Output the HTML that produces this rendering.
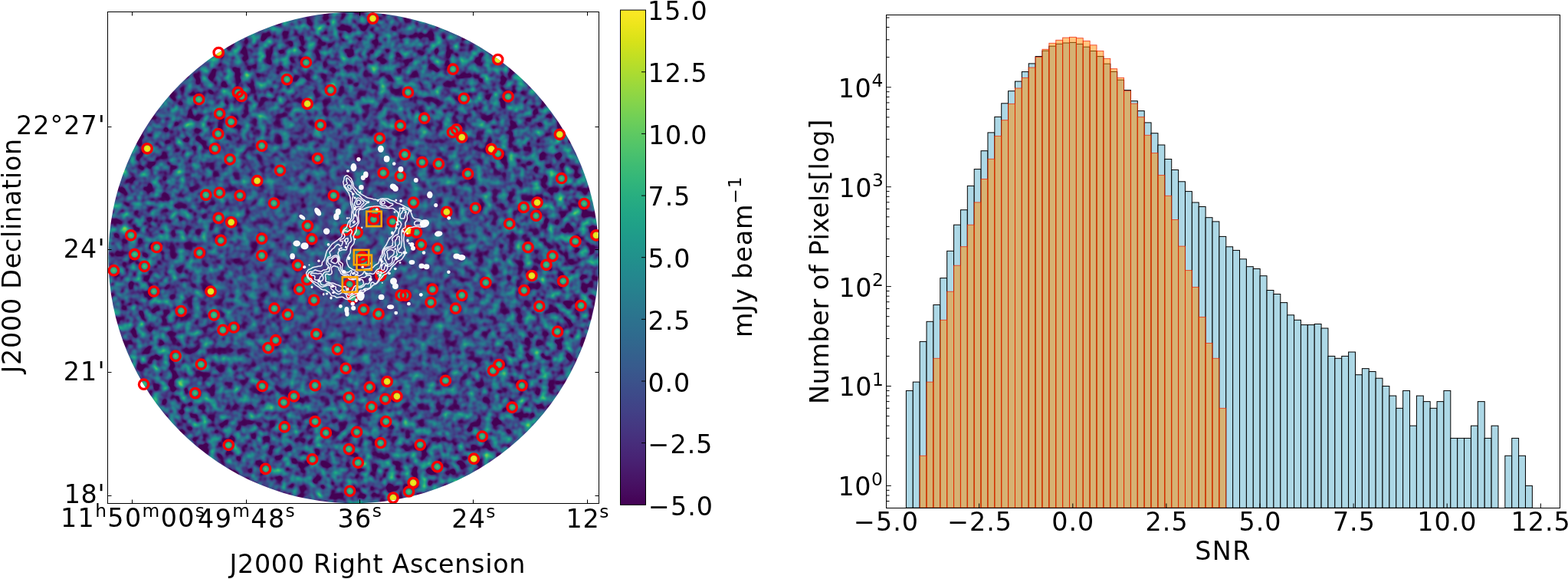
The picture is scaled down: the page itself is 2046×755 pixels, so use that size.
<!DOCTYPE html><html><head><meta charset="utf-8"><title>Radio map and SNR histogram</title><style>html,body{margin:0;padding:0;background:#fff;overflow:hidden}svg{display:block}text{font-family:"DejaVu Sans","Liberation Sans",sans-serif;font-size:33.33px;fill:#000}</style></head><body>
<svg width="2046" height="755" viewBox="0 0 2046 755">
<defs>
<filter id="nzh" x="139" y="14" width="644" height="644" filterUnits="userSpaceOnUse" color-interpolation-filters="sRGB"><feTurbulence type="fractalNoise" baseFrequency="0.095" numOctaves="2" seed="11"/><feColorMatrix type="matrix" values="0 0 0 1 0 0 0 0 1 0 0 0 0 1 0 0 0 0 0 1"/><feGaussianBlur stdDeviation="0.9"/><feComponentTransfer><feFuncR type="table" tableValues="0.267 0.267 0.267 0.267 0.267 0.267 0.267 0.267 0.267 0.267 0.267 0.267 0.267 0.267 0.267 0.267 0.267 0.274 0.281 0.283 0.280 0.272 0.261 0.247 0.230 0.214 0.198 0.184 0.170 0.158 0.145 0.134 0.124 0.119 0.125 0.147 0.181 0.233 0.289 0.361 0.431 0.506 0.596 0.678 0.773 0.856 0.946 0.269"/><feFuncG type="table" tableValues="0.005 0.005 0.005 0.005 0.005 0.005 0.005 0.005 0.005 0.005 0.005 0.005 0.005 0.005 0.005 0.005 0.005 0.031 0.079 0.126 0.166 0.209 0.247 0.283 0.322 0.356 0.392 0.422 0.456 0.486 0.519 0.549 0.578 0.611 0.640 0.673 0.701 0.732 0.758 0.786 0.808 0.829 0.849 0.864 0.878 0.889 0.900 0.010"/><feFuncB type="table" tableValues="0.329 0.329 0.329 0.329 0.329 0.329 0.329 0.329 0.329 0.329 0.329 0.329 0.329 0.329 0.329 0.329 0.329 0.359 0.402 0.445 0.476 0.504 0.523 0.536 0.546 0.551 0.555 0.557 0.558 0.558 0.557 0.554 0.548 0.539 0.527 0.509 0.488 0.459 0.428 0.388 0.346 0.300 0.243 0.190 0.131 0.097 0.113 0.335"/></feComponentTransfer></filter>
<filter id="nzl" x="139" y="14" width="644" height="644" filterUnits="userSpaceOnUse" color-interpolation-filters="sRGB"><feTurbulence type="fractalNoise" baseFrequency="0.095" numOctaves="2" seed="11"/><feColorMatrix type="matrix" values="0 0 0 1 0 0 0 0 1 0 0 0 0 1 0 0 0 0 0 1"/><feGaussianBlur stdDeviation="0.9"/><feComponentTransfer><feFuncR type="table" tableValues="0.267 0.267 0.267 0.267 0.267 0.267 0.267 0.267 0.267 0.267 0.267 0.267 0.271 0.277 0.281 0.283 0.283 0.281 0.278 0.273 0.267 0.261 0.252 0.243 0.234 0.224 0.214 0.205 0.196 0.187 0.179 0.173 0.165 0.158 0.150 0.143 0.136 0.130 0.124 0.121 0.119 0.121 0.128 0.140 0.158 0.181 0.208 0.239"/><feFuncG type="table" tableValues="0.005 0.005 0.005 0.005 0.005 0.005 0.005 0.005 0.005 0.005 0.005 0.005 0.020 0.050 0.079 0.105 0.131 0.156 0.180 0.205 0.228 0.247 0.270 0.292 0.314 0.335 0.356 0.376 0.395 0.415 0.434 0.449 0.467 0.486 0.504 0.523 0.541 0.560 0.578 0.596 0.615 0.629 0.648 0.666 0.684 0.701 0.719 0.736"/><feFuncB type="table" tableValues="0.329 0.329 0.329 0.329 0.329 0.329 0.329 0.329 0.329 0.329 0.329 0.329 0.347 0.376 0.402 0.427 0.449 0.469 0.487 0.502 0.514 0.523 0.532 0.539 0.544 0.548 0.551 0.554 0.555 0.557 0.557 0.558 0.558 0.558 0.557 0.556 0.554 0.552 0.548 0.544 0.538 0.532 0.523 0.513 0.502 0.488 0.473 0.456"/></feComponentTransfer></filter>
<radialGradient id="mg" cx="461.6" cy="336.0" r="320.2" gradientUnits="userSpaceOnUse"><stop offset="0" stop-color="#fff"/><stop offset="0.35" stop-color="#fff"/><stop offset="0.9" stop-color="#000"/></radialGradient>
<mask id="cm" maskUnits="userSpaceOnUse" x="0" y="0" width="2046" height="755"><rect x="139" y="14" width="644" height="644" fill="url(#mg)"/></mask>
<clipPath id="disk"><circle cx="461.6" cy="336.0" r="320.2"/></clipPath>
<clipPath id="frame"><rect x="140.5" y="15.4" width="641.0" height="640.7"/></clipPath>
<radialGradient id="soft" cx="461.6" cy="336.0" r="320.2" gradientUnits="userSpaceOnUse"><stop offset="0" stop-color="#3c4e8a" stop-opacity="0.42"/><stop offset="0.4" stop-color="#3c4e8a" stop-opacity="0.3"/><stop offset="0.85" stop-color="#3c4e8a" stop-opacity="0"/></radialGradient>
<radialGradient id="src1"><stop offset="0" stop-color="#52c569"/><stop offset="0.5" stop-color="#2db27d" stop-opacity="0.9"/><stop offset="1" stop-color="#21918c" stop-opacity="0"/></radialGradient>
<radialGradient id="src2"><stop offset="0" stop-color="#fde725"/><stop offset="0.6" stop-color="#e2e418"/><stop offset="1" stop-color="#7ad151" stop-opacity="0"/></radialGradient>
<radialGradient id="src0"><stop offset="0" stop-color="#4ac16d"/><stop offset="0.5" stop-color="#22a884"/><stop offset="1" stop-color="#2a788e" stop-opacity="0"/></radialGradient>
<linearGradient id="cbar" x1="0" y1="1" x2="0" y2="0"><stop offset="0.0000" stop-color="#440154"/><stop offset="0.0312" stop-color="#470d60"/><stop offset="0.0625" stop-color="#48186a"/><stop offset="0.0938" stop-color="#482374"/><stop offset="0.1250" stop-color="#472d7b"/><stop offset="0.1562" stop-color="#453781"/><stop offset="0.1875" stop-color="#424086"/><stop offset="0.2188" stop-color="#3e4989"/><stop offset="0.2500" stop-color="#3b528b"/><stop offset="0.2812" stop-color="#375b8d"/><stop offset="0.3125" stop-color="#33638d"/><stop offset="0.3438" stop-color="#2f6b8e"/><stop offset="0.3750" stop-color="#2c728e"/><stop offset="0.4062" stop-color="#297a8e"/><stop offset="0.4375" stop-color="#26828e"/><stop offset="0.4688" stop-color="#23898e"/><stop offset="0.5000" stop-color="#21918c"/><stop offset="0.5312" stop-color="#1f988b"/><stop offset="0.5625" stop-color="#1fa088"/><stop offset="0.5938" stop-color="#22a785"/><stop offset="0.6250" stop-color="#28ae80"/><stop offset="0.6562" stop-color="#32b67a"/><stop offset="0.6875" stop-color="#3fbc73"/><stop offset="0.7188" stop-color="#4ec36b"/><stop offset="0.7500" stop-color="#5ec962"/><stop offset="0.7812" stop-color="#70cf57"/><stop offset="0.8125" stop-color="#84d44b"/><stop offset="0.8438" stop-color="#98d83e"/><stop offset="0.8750" stop-color="#addc30"/><stop offset="0.9062" stop-color="#c2df23"/><stop offset="0.9375" stop-color="#d8e219"/><stop offset="0.9688" stop-color="#ece51b"/><stop offset="1.0000" stop-color="#fde725"/></linearGradient>
</defs>
<g clip-path="url(#frame)"><g clip-path="url(#disk)">
<rect x="139" y="14" width="644" height="644" filter="url(#nzh)"/>
<g mask="url(#cm)"><rect x="139" y="14" width="644" height="644" filter="url(#nzl)"/></g>
<circle cx="285.2" cy="68.5" r="6.0" fill="url(#src2)"/>
<circle cx="310.3" cy="120.4" r="6.0" fill="url(#src1)"/>
<circle cx="315.1" cy="125.5" r="6.0" fill="url(#src1)"/>
<circle cx="259.6" cy="129.5" r="6.0" fill="url(#src1)"/>
<circle cx="286.6" cy="148.3" r="6.0" fill="url(#src1)"/>
<circle cx="301.7" cy="158.8" r="6.0" fill="url(#src1)"/>
<circle cx="284.6" cy="174.5" r="6.0" fill="url(#src1)"/>
<circle cx="192.1" cy="193.8" r="6.0" fill="url(#src2)"/>
<circle cx="280.4" cy="193.8" r="6.0" fill="url(#src1)"/>
<circle cx="341.6" cy="190.1" r="6.0" fill="url(#src1)"/>
<circle cx="300" cy="207.8" r="6.0" fill="url(#src1)"/>
<circle cx="486.5" cy="24.1" r="6.0" fill="url(#src2)"/>
<circle cx="399.4" cy="81.3" r="6.0" fill="url(#src1)"/>
<circle cx="374.4" cy="103.6" r="6.0" fill="url(#src1)"/>
<circle cx="431.3" cy="117.5" r="6.0" fill="url(#src1)"/>
<circle cx="401.1" cy="135.4" r="6.0" fill="url(#src2)"/>
<circle cx="532.4" cy="120.4" r="6.0" fill="url(#src1)"/>
<circle cx="553.7" cy="154.2" r="6.0" fill="url(#src1)"/>
<circle cx="418.2" cy="163.1" r="6.0" fill="url(#src1)"/>
<circle cx="522.4" cy="163.9" r="6.0" fill="url(#src1)"/>
<circle cx="495.4" cy="180.4" r="6.0" fill="url(#src1)"/>
<circle cx="528.1" cy="201.5" r="6.0" fill="url(#src1)"/>
<circle cx="414.5" cy="206.6" r="6.0" fill="url(#src1)"/>
<circle cx="550.9" cy="211.5" r="6.0" fill="url(#src1)"/>
<circle cx="365.5" cy="222.3" r="6.0" fill="url(#src1)"/>
<circle cx="500.2" cy="225.5" r="6.0" fill="url(#src1)"/>
<circle cx="522.4" cy="229.5" r="6.0" fill="url(#src1)"/>
<circle cx="649.7" cy="77.6" r="6.0" fill="url(#src2)"/>
<circle cx="591.1" cy="90.2" r="6.0" fill="url(#src1)"/>
<circle cx="605.3" cy="128.3" r="6.0" fill="url(#src1)"/>
<circle cx="663.1" cy="125.8" r="6.0" fill="url(#src1)"/>
<circle cx="595.6" cy="168.8" r="6.0" fill="url(#src1)"/>
<circle cx="590.5" cy="172.5" r="6.0" fill="url(#src1)"/>
<circle cx="602.7" cy="179" r="6.0" fill="url(#src2)"/>
<circle cx="730.3" cy="175.3" r="6.0" fill="url(#src2)"/>
<circle cx="641.2" cy="194.4" r="6.0" fill="url(#src2)"/>
<circle cx="650" cy="200.6" r="6.0" fill="url(#src1)"/>
<circle cx="572.3" cy="213.7" r="6.0" fill="url(#src1)"/>
<circle cx="610.5" cy="226.7" r="6.0" fill="url(#src1)"/>
<circle cx="732.6" cy="232.5" r="6.0" fill="url(#src1)"/>
<circle cx="335.6" cy="235.7" r="6.0" fill="url(#src2)"/>
<circle cx="268.7" cy="254.2" r="6.0" fill="url(#src1)"/>
<circle cx="286.4" cy="251.3" r="6.0" fill="url(#src1)"/>
<circle cx="313.1" cy="255" r="6.0" fill="url(#src1)"/>
<circle cx="285.2" cy="284.4" r="6.0" fill="url(#src1)"/>
<circle cx="301.7" cy="289.8" r="6.0" fill="url(#src2)"/>
<circle cx="170.8" cy="306.8" r="6.0" fill="url(#src1)"/>
<circle cx="288.1" cy="313.4" r="6.0" fill="url(#src1)"/>
<circle cx="341.6" cy="311.1" r="6.0" fill="url(#src1)"/>
<circle cx="204.4" cy="322.5" r="6.0" fill="url(#src1)"/>
<circle cx="175.6" cy="331.6" r="6.0" fill="url(#src1)"/>
<circle cx="260.4" cy="329.6" r="6.0" fill="url(#src1)"/>
<circle cx="341.6" cy="333.3" r="6.0" fill="url(#src1)"/>
<circle cx="188.4" cy="347.3" r="6.0" fill="url(#src1)"/>
<circle cx="148.5" cy="352.7" r="6.0" fill="url(#src1)"/>
<circle cx="200.6" cy="380" r="6.0" fill="url(#src1)"/>
<circle cx="275" cy="380" r="6.0" fill="url(#src2)"/>
<circle cx="236.2" cy="405.6" r="6.0" fill="url(#src1)"/>
<circle cx="279.2" cy="410.8" r="6.0" fill="url(#src1)"/>
<circle cx="305.1" cy="427" r="6.0" fill="url(#src1)"/>
<circle cx="290.9" cy="430.3" r="6.0" fill="url(#src1)"/>
<circle cx="435.3" cy="255" r="6.0" fill="url(#src1)"/>
<circle cx="357.5" cy="265" r="6.0" fill="url(#src1)"/>
<circle cx="539.5" cy="264.1" r="6.0" fill="url(#src1)"/>
<circle cx="401.4" cy="294.6" r="6.0" fill="url(#src1)"/>
<circle cx="489" cy="275.8" r="6.0" fill="url(#src1)"/>
<circle cx="487.5" cy="286" r="6.0" fill="url(#src1)"/>
<circle cx="512.2" cy="288.9" r="6.0" fill="url(#src1)"/>
<circle cx="451.2" cy="299.8" r="6.0" fill="url(#src1)"/>
<circle cx="466.1" cy="303.1" r="6.0" fill="url(#src1)"/>
<circle cx="533" cy="301.1" r="6.0" fill="url(#src2)"/>
<circle cx="543.5" cy="303.1" r="6.0" fill="url(#src1)"/>
<circle cx="406.8" cy="311.7" r="6.0" fill="url(#src1)"/>
<circle cx="549.5" cy="319.1" r="6.0" fill="url(#src1)"/>
<circle cx="571" cy="324.2" r="6.0" fill="url(#src1)"/>
<circle cx="388.6" cy="345.9" r="6.0" fill="url(#src1)"/>
<circle cx="472.5" cy="335.2" r="6.0" fill="url(#src1)"/>
<circle cx="474.8" cy="341.3" r="6.0" fill="url(#src1)"/>
<circle cx="496.8" cy="359.1" r="6.0" fill="url(#src1)"/>
<circle cx="400.6" cy="364.6" r="6.0" fill="url(#src1)"/>
<circle cx="456.1" cy="370.6" r="6.0" fill="url(#src1)"/>
<circle cx="390.6" cy="377.2" r="6.0" fill="url(#src1)"/>
<circle cx="564.3" cy="377.2" r="6.0" fill="url(#src1)"/>
<circle cx="523" cy="385.1" r="6.0" fill="url(#src1)"/>
<circle cx="529.2" cy="385.1" r="6.0" fill="url(#src1)"/>
<circle cx="409.7" cy="391.4" r="6.0" fill="url(#src1)"/>
<circle cx="460.3" cy="388.3" r="6.0" fill="url(#src1)"/>
<circle cx="562" cy="394.3" r="6.0" fill="url(#src1)"/>
<circle cx="358" cy="402.2" r="6.0" fill="url(#src1)"/>
<circle cx="474.6" cy="403.7" r="6.0" fill="url(#src1)"/>
<circle cx="375.5" cy="410.2" r="6.0" fill="url(#src1)"/>
<circle cx="494" cy="409.4" r="6.0" fill="url(#src1)"/>
<circle cx="701" cy="264.1" r="6.0" fill="url(#src2)"/>
<circle cx="683.3" cy="270.4" r="6.0" fill="url(#src1)"/>
<circle cx="762.2" cy="265.6" r="6.0" fill="url(#src1)"/>
<circle cx="620.4" cy="271.3" r="6.0" fill="url(#src1)"/>
<circle cx="582.8" cy="276.4" r="6.0" fill="url(#src2)"/>
<circle cx="699.6" cy="281.2" r="6.0" fill="url(#src1)"/>
<circle cx="664.8" cy="291.8" r="6.0" fill="url(#src1)"/>
<circle cx="777.9" cy="306.8" r="6.0" fill="url(#src2)"/>
<circle cx="750.8" cy="314.8" r="6.0" fill="url(#src1)"/>
<circle cx="689" cy="322.5" r="6.0" fill="url(#src1)"/>
<circle cx="720.9" cy="333.9" r="6.0" fill="url(#src1)"/>
<circle cx="712.9" cy="345.3" r="6.0" fill="url(#src1)"/>
<circle cx="693.9" cy="359.5" r="6.0" fill="url(#src2)"/>
<circle cx="734.6" cy="366.6" r="6.0" fill="url(#src1)"/>
<circle cx="633.8" cy="368.6" r="6.0" fill="url(#src1)"/>
<circle cx="683.9" cy="378.6" r="6.0" fill="url(#src1)"/>
<circle cx="602.7" cy="385.1" r="6.0" fill="url(#src1)"/>
<circle cx="594.5" cy="402.2" r="6.0" fill="url(#src1)"/>
<circle cx="703.8" cy="399.4" r="6.0" fill="url(#src1)"/>
<circle cx="757.9" cy="398.5" r="6.0" fill="url(#src1)"/>
<circle cx="727.5" cy="432.4" r="6.0" fill="url(#src1)"/>
<circle cx="349.9" cy="453.6" r="6.0" fill="url(#src1)"/>
<circle cx="229.1" cy="464.2" r="6.0" fill="url(#src1)"/>
<circle cx="262.4" cy="475" r="6.0" fill="url(#src1)"/>
<circle cx="187.6" cy="501.2" r="6.0" fill="url(#src1)"/>
<circle cx="254.7" cy="512.6" r="6.0" fill="url(#src1)"/>
<circle cx="342.2" cy="503.5" r="6.0" fill="url(#src1)"/>
<circle cx="298.3" cy="580.3" r="6.0" fill="url(#src1)"/>
<circle cx="346.5" cy="611.4" r="6.0" fill="url(#src1)"/>
<circle cx="412.8" cy="435.7" r="6.0" fill="url(#src1)"/>
<circle cx="359.8" cy="443.7" r="6.0" fill="url(#src1)"/>
<circle cx="440.4" cy="455.6" r="6.0" fill="url(#src1)"/>
<circle cx="451.2" cy="480.4" r="6.0" fill="url(#src1)"/>
<circle cx="411.1" cy="502.6" r="6.0" fill="url(#src1)"/>
<circle cx="505.1" cy="497.5" r="6.0" fill="url(#src2)"/>
<circle cx="482.3" cy="504.9" r="6.0" fill="url(#src1)"/>
<circle cx="383.5" cy="516.8" r="6.0" fill="url(#src1)"/>
<circle cx="370.4" cy="524.8" r="6.0" fill="url(#src1)"/>
<circle cx="455.2" cy="518.3" r="6.0" fill="url(#src1)"/>
<circle cx="502.8" cy="520.3" r="6.0" fill="url(#src1)"/>
<circle cx="517.9" cy="516.8" r="6.0" fill="url(#src2)"/>
<circle cx="484.8" cy="530.5" r="6.0" fill="url(#src1)"/>
<circle cx="371.2" cy="556.7" r="6.0" fill="url(#src1)"/>
<circle cx="411.1" cy="549.6" r="6.0" fill="url(#src1)"/>
<circle cx="503.6" cy="549.6" r="6.0" fill="url(#src1)"/>
<circle cx="425.3" cy="564.4" r="6.0" fill="url(#src1)"/>
<circle cx="465.5" cy="563.3" r="6.0" fill="url(#src1)"/>
<circle cx="496.6" cy="577.5" r="6.0" fill="url(#src1)"/>
<circle cx="548.3" cy="580.2" r="6.0" fill="url(#src1)"/>
<circle cx="455.4" cy="585.6" r="6.0" fill="url(#src1)"/>
<circle cx="407.6" cy="598.8" r="6.0" fill="url(#src1)"/>
<circle cx="467.3" cy="603.3" r="6.0" fill="url(#src1)"/>
<circle cx="570.6" cy="608.6" r="6.0" fill="url(#src1)"/>
<circle cx="539.2" cy="629.6" r="6.0" fill="url(#src2)"/>
<circle cx="533.6" cy="641" r="6.0" fill="url(#src1)"/>
<circle cx="456.6" cy="640.3" r="6.0" fill="url(#src1)"/>
<circle cx="513" cy="649.1" r="6.0" fill="url(#src2)"/>
<circle cx="651.1" cy="475.6" r="6.0" fill="url(#src1)"/>
<circle cx="643.5" cy="483.2" r="6.0" fill="url(#src1)"/>
<circle cx="581.4" cy="496.3" r="6.0" fill="url(#src1)"/>
<circle cx="681" cy="502.6" r="6.0" fill="url(#src1)"/>
<circle cx="668.2" cy="531.1" r="6.0" fill="url(#src1)"/>
<circle cx="629.2" cy="569" r="6.0" fill="url(#src1)"/>
<circle cx="618.3" cy="598.2" r="6.0" fill="url(#src2)"/>
</g>
<g fill="none" stroke="#ff0000" stroke-width="3.3"><circle cx="285.2" cy="68.5" r="6.2"/><circle cx="310.3" cy="120.4" r="6.2"/><circle cx="315.1" cy="125.5" r="6.2"/><circle cx="259.6" cy="129.5" r="6.2"/><circle cx="286.6" cy="148.3" r="6.2"/><circle cx="301.7" cy="158.8" r="6.2"/><circle cx="284.6" cy="174.5" r="6.2"/><circle cx="192.1" cy="193.8" r="6.2"/><circle cx="280.4" cy="193.8" r="6.2"/><circle cx="341.6" cy="190.1" r="6.2"/><circle cx="300" cy="207.8" r="6.2"/><circle cx="486.5" cy="24.1" r="6.2"/><circle cx="399.4" cy="81.3" r="6.2"/><circle cx="374.4" cy="103.6" r="6.2"/><circle cx="431.3" cy="117.5" r="6.2"/><circle cx="401.1" cy="135.4" r="6.2"/><circle cx="532.4" cy="120.4" r="6.2"/><circle cx="553.7" cy="154.2" r="6.2"/><circle cx="418.2" cy="163.1" r="6.2"/><circle cx="522.4" cy="163.9" r="6.2"/><circle cx="495.4" cy="180.4" r="6.2"/><circle cx="528.1" cy="201.5" r="6.2"/><circle cx="414.5" cy="206.6" r="6.2"/><circle cx="550.9" cy="211.5" r="6.2"/><circle cx="365.5" cy="222.3" r="6.2"/><circle cx="500.2" cy="225.5" r="6.2"/><circle cx="522.4" cy="229.5" r="6.2"/><circle cx="649.7" cy="77.6" r="6.2"/><circle cx="591.1" cy="90.2" r="6.2"/><circle cx="605.3" cy="128.3" r="6.2"/><circle cx="663.1" cy="125.8" r="6.2"/><circle cx="595.6" cy="168.8" r="6.2"/><circle cx="590.5" cy="172.5" r="6.2"/><circle cx="602.7" cy="179" r="6.2"/><circle cx="730.3" cy="175.3" r="6.2"/><circle cx="641.2" cy="194.4" r="6.2"/><circle cx="650" cy="200.6" r="6.2"/><circle cx="572.3" cy="213.7" r="6.2"/><circle cx="610.5" cy="226.7" r="6.2"/><circle cx="732.6" cy="232.5" r="6.2"/><circle cx="335.6" cy="235.7" r="6.2"/><circle cx="268.7" cy="254.2" r="6.2"/><circle cx="286.4" cy="251.3" r="6.2"/><circle cx="313.1" cy="255" r="6.2"/><circle cx="285.2" cy="284.4" r="6.2"/><circle cx="301.7" cy="289.8" r="6.2"/><circle cx="170.8" cy="306.8" r="6.2"/><circle cx="288.1" cy="313.4" r="6.2"/><circle cx="341.6" cy="311.1" r="6.2"/><circle cx="204.4" cy="322.5" r="6.2"/><circle cx="175.6" cy="331.6" r="6.2"/><circle cx="260.4" cy="329.6" r="6.2"/><circle cx="341.6" cy="333.3" r="6.2"/><circle cx="188.4" cy="347.3" r="6.2"/><circle cx="148.5" cy="352.7" r="6.2"/><circle cx="200.6" cy="380" r="6.2"/><circle cx="275" cy="380" r="6.2"/><circle cx="236.2" cy="405.6" r="6.2"/><circle cx="279.2" cy="410.8" r="6.2"/><circle cx="305.1" cy="427" r="6.2"/><circle cx="290.9" cy="430.3" r="6.2"/><circle cx="435.3" cy="255" r="6.2"/><circle cx="357.5" cy="265" r="6.2"/><circle cx="539.5" cy="264.1" r="6.2"/><circle cx="401.4" cy="294.6" r="6.2"/><circle cx="489" cy="275.8" r="6.2"/><circle cx="487.5" cy="286" r="6.2"/><circle cx="512.2" cy="288.9" r="6.2"/><circle cx="451.2" cy="299.8" r="6.2"/><circle cx="466.1" cy="303.1" r="6.2"/><circle cx="533" cy="301.1" r="6.2"/><circle cx="543.5" cy="303.1" r="6.2"/><circle cx="406.8" cy="311.7" r="6.2"/><circle cx="549.5" cy="319.1" r="6.2"/><circle cx="571" cy="324.2" r="6.2"/><circle cx="388.6" cy="345.9" r="6.2"/><circle cx="472.5" cy="335.2" r="6.2"/><circle cx="474.8" cy="341.3" r="6.2"/><circle cx="496.8" cy="359.1" r="6.2"/><circle cx="400.6" cy="364.6" r="6.2"/><circle cx="456.1" cy="370.6" r="6.2"/><circle cx="390.6" cy="377.2" r="6.2"/><circle cx="564.3" cy="377.2" r="6.2"/><circle cx="523" cy="385.1" r="6.2"/><circle cx="529.2" cy="385.1" r="6.2"/><circle cx="409.7" cy="391.4" r="6.2"/><circle cx="460.3" cy="388.3" r="6.2"/><circle cx="562" cy="394.3" r="6.2"/><circle cx="358" cy="402.2" r="6.2"/><circle cx="474.6" cy="403.7" r="6.2"/><circle cx="375.5" cy="410.2" r="6.2"/><circle cx="494" cy="409.4" r="6.2"/><circle cx="701" cy="264.1" r="6.2"/><circle cx="683.3" cy="270.4" r="6.2"/><circle cx="762.2" cy="265.6" r="6.2"/><circle cx="620.4" cy="271.3" r="6.2"/><circle cx="582.8" cy="276.4" r="6.2"/><circle cx="699.6" cy="281.2" r="6.2"/><circle cx="664.8" cy="291.8" r="6.2"/><circle cx="777.9" cy="306.8" r="6.2"/><circle cx="750.8" cy="314.8" r="6.2"/><circle cx="689" cy="322.5" r="6.2"/><circle cx="720.9" cy="333.9" r="6.2"/><circle cx="712.9" cy="345.3" r="6.2"/><circle cx="693.9" cy="359.5" r="6.2"/><circle cx="734.6" cy="366.6" r="6.2"/><circle cx="633.8" cy="368.6" r="6.2"/><circle cx="683.9" cy="378.6" r="6.2"/><circle cx="602.7" cy="385.1" r="6.2"/><circle cx="594.5" cy="402.2" r="6.2"/><circle cx="703.8" cy="399.4" r="6.2"/><circle cx="757.9" cy="398.5" r="6.2"/><circle cx="727.5" cy="432.4" r="6.2"/><circle cx="349.9" cy="453.6" r="6.2"/><circle cx="229.1" cy="464.2" r="6.2"/><circle cx="262.4" cy="475" r="6.2"/><circle cx="187.6" cy="501.2" r="6.2"/><circle cx="254.7" cy="512.6" r="6.2"/><circle cx="342.2" cy="503.5" r="6.2"/><circle cx="298.3" cy="580.3" r="6.2"/><circle cx="346.5" cy="611.4" r="6.2"/><circle cx="412.8" cy="435.7" r="6.2"/><circle cx="359.8" cy="443.7" r="6.2"/><circle cx="440.4" cy="455.6" r="6.2"/><circle cx="451.2" cy="480.4" r="6.2"/><circle cx="411.1" cy="502.6" r="6.2"/><circle cx="505.1" cy="497.5" r="6.2"/><circle cx="482.3" cy="504.9" r="6.2"/><circle cx="383.5" cy="516.8" r="6.2"/><circle cx="370.4" cy="524.8" r="6.2"/><circle cx="455.2" cy="518.3" r="6.2"/><circle cx="502.8" cy="520.3" r="6.2"/><circle cx="517.9" cy="516.8" r="6.2"/><circle cx="484.8" cy="530.5" r="6.2"/><circle cx="371.2" cy="556.7" r="6.2"/><circle cx="411.1" cy="549.6" r="6.2"/><circle cx="503.6" cy="549.6" r="6.2"/><circle cx="425.3" cy="564.4" r="6.2"/><circle cx="465.5" cy="563.3" r="6.2"/><circle cx="496.6" cy="577.5" r="6.2"/><circle cx="548.3" cy="580.2" r="6.2"/><circle cx="455.4" cy="585.6" r="6.2"/><circle cx="407.6" cy="598.8" r="6.2"/><circle cx="467.3" cy="603.3" r="6.2"/><circle cx="570.6" cy="608.6" r="6.2"/><circle cx="539.2" cy="629.6" r="6.2"/><circle cx="533.6" cy="641" r="6.2"/><circle cx="456.6" cy="640.3" r="6.2"/><circle cx="513" cy="649.1" r="6.2"/><circle cx="651.1" cy="475.6" r="6.2"/><circle cx="643.5" cy="483.2" r="6.2"/><circle cx="581.4" cy="496.3" r="6.2"/><circle cx="681" cy="502.6" r="6.2"/><circle cx="668.2" cy="531.1" r="6.2"/><circle cx="629.2" cy="569" r="6.2"/><circle cx="618.3" cy="598.2" r="6.2"/></g>
<g fill="none" stroke="#f8f8ff" stroke-width="1.55" stroke-linejoin="round" opacity="0.95"><path d="M452.4 228.8L453.1 228.8L453.8 229.0L454.4 229.5L454.9 230.0L455.5 230.5L456.0 230.9L456.5 231.4L457.0 231.8L457.6 232.2L458.1 232.8L458.5 233.2L458.8 234.0L459.0 234.8L459.2 235.5L459.6 236.2L460.0 237.0L460.2 237.6L460.5 238.3L460.8 239.2L460.9 240.0L461.0 241.0L461.1 241.8L461.3 242.5L461.5 243.2L462.0 244.0L462.4 244.5L462.9 245.0L463.4 245.5L463.9 246.0L464.4 246.5L464.9 247.0L465.4 247.5L465.9 248.0L466.4 248.5L466.8 249.0L467.2 249.6L467.8 250.2L468.2 250.7L468.8 251.2L469.2 251.6L469.8 252.0L470.5 252.5L471.0 252.8L471.7 253.2L472.2 253.6L472.8 254.0L473.5 254.4L474.1 254.8L474.8 255.1L475.5 255.4L476.1 255.8L476.8 256.2L477.3 256.5L478.0 257.0L478.5 257.3L479.2 257.6L480.0 257.9L480.8 258.1L481.6 258.2L482.5 258.4L483.2 258.6L484.0 258.8L484.9 259.0L485.7 259.2L486.5 259.5L487.2 259.7L488.0 259.9L489.0 260.0L489.8 260.1L490.5 260.3L491.3 260.5L492.2 260.7L493.2 260.7L494.0 260.5L494.8 260.2L495.5 259.8L496.2 259.5L496.8 259.2L497.7 259.0L498.5 258.9L499.5 258.8L500.5 258.9L501.5 259.0L502.5 259.0L503.5 259.0L504.5 259.0L505.2 259.1L506.2 259.2L506.9 259.5L507.5 259.8L508.2 260.2L508.9 260.5L509.5 260.8L510.2 261.1L511.0 261.4L511.8 261.6L512.5 261.8L513.2 262.0L514.0 262.3L514.8 262.6L515.4 263.0L516.0 263.5L516.5 263.9L517.0 264.3L517.8 264.7L518.5 265.0L519.2 265.2L520.0 265.4L520.8 265.5L521.5 265.8L522.2 266.1L523.0 266.5L523.5 266.8L524.2 267.1L525.0 267.5L525.6 267.8L526.2 268.1L527.0 268.5L527.5 268.8L528.2 269.2L528.8 269.6L529.5 270.0L530.0 270.3L530.8 270.6L531.5 270.9L532.2 271.2L532.9 271.5L533.5 271.9L534.0 272.2L534.5 272.8L534.9 273.5L535.2 274.2L535.5 275.0L535.8 275.6L536.0 276.2L536.3 277.0L536.6 277.8L536.9 278.5L537.2 279.2L537.4 280.0L537.6 280.8L537.8 281.5L538.1 282.2L538.5 282.9L538.9 283.5L539.3 284.0L539.9 284.5L540.5 284.9L541.2 285.2L542.0 285.4L542.8 285.5L543.8 285.7L544.5 285.8L545.5 286.0L546.2 286.1L547.0 286.3L547.8 286.5L548.5 286.8L549.2 287.2L549.8 287.5L550.5 287.9L551.1 288.2L551.8 288.7L552.2 289.0L553.0 289.5L553.5 289.8L554.2 290.1L555.0 290.5L555.5 290.8L556.0 291.5L556.0 292.0L555.7 292.8L555.2 293.3L554.8 293.9L554.2 294.4L553.8 294.9L553.2 295.3L552.5 295.7L551.8 295.9L550.9 296.0L550.0 296.1L549.0 296.1L548.0 296.0L547.2 295.9L546.5 295.7L545.5 295.6L544.5 295.5L543.5 295.5L542.5 295.5L541.5 295.6L540.5 295.7L539.8 295.8L539.0 296.0L538.1 296.2L537.2 296.4L536.5 296.5L535.5 296.6L534.5 296.7L533.8 296.8L533.0 297.2L532.5 297.8L532.1 298.2L531.7 298.8L531.2 299.3L530.8 299.9L530.2 300.4L529.8 301.0L529.2 301.5L528.8 302.0L528.3 302.5L528.0 303.0L527.7 303.8L527.5 304.6L527.4 305.5L527.3 306.5L527.2 307.2L527.1 308.2L526.9 309.0L526.8 310.0L526.7 310.8L526.7 311.8L526.7 312.8L526.7 313.8L526.9 314.5L527.0 315.5L527.1 316.2L527.2 317.2L527.3 318.0L527.4 319.0L527.4 320.0L527.4 321.0L527.5 321.8L527.8 322.5L528.0 323.2L528.3 324.0L528.5 324.8L528.7 325.8L528.7 326.7L528.8 327.5L528.8 328.5L528.8 329.5L528.8 330.3L528.5 331.2L528.3 332.0L528.0 332.5L527.5 333.2L527.1 333.8L526.8 334.3L526.3 335.0L526.0 335.5L525.6 336.2L525.2 336.8L524.8 337.4L524.2 337.9L523.8 338.4L523.2 338.8L522.7 339.2L522.0 339.6L521.2 339.8L520.5 340.0L519.8 340.3L519.0 340.7L518.5 341.0L518.0 341.6L517.5 342.2L517.1 342.8L516.7 343.2L516.2 343.8L515.6 344.2L515.0 344.7L514.5 345.1L514.0 345.5L513.4 346.0L512.8 346.5L512.3 347.0L511.8 347.5L511.4 348.0L511.0 348.5L510.5 349.2L510.2 349.8L509.9 350.5L509.5 351.2L509.2 351.8L508.8 352.4L508.2 352.9L507.8 353.4L507.2 353.9L506.7 354.5L506.3 355.0L506.0 355.5L505.5 356.0L504.9 356.5L504.2 356.8L503.5 357.2L502.9 357.5L502.2 357.8L501.6 358.2L501.0 358.6L500.5 359.0L499.9 359.5L499.4 360.0L499.0 360.5L498.5 361.2L498.1 361.8L497.7 362.3L497.2 362.9L496.8 363.5L496.3 364.0L495.9 364.5L495.4 365.0L495.0 365.6L494.5 366.2L494.1 366.8L493.7 367.2L493.2 367.8L492.8 368.3L492.2 368.8L491.8 369.3L491.2 369.8L490.5 370.2L490.0 370.5L489.2 370.8L488.5 371.0L487.8 371.3L487.0 371.7L486.5 372.1L486.0 372.6L485.5 373.2L485.1 373.8L484.7 374.2L484.2 374.8L483.7 375.2L483.0 375.8L482.5 376.1L481.9 376.5L481.2 376.9L480.5 377.2L479.8 377.5L479.2 377.8L478.5 378.0L477.8 378.4L477.2 378.8L476.7 379.2L476.2 379.8L475.6 380.2L475.0 380.7L474.5 381.0L473.8 381.5L473.2 381.8L472.5 382.2L472.0 382.5L471.2 382.9L470.5 383.2L469.8 383.5L469.0 383.7L468.3 384.0L467.8 384.3L467.0 384.7L466.3 385.0L465.8 385.3L465.0 385.6L464.2 385.8L463.5 386.1L462.8 386.4L462.0 386.7L461.4 387.0L460.8 387.3L460.0 387.7L459.5 388.0L458.8 388.5L458.2 389.0L457.8 389.3L457.2 389.8L456.5 390.1L455.8 390.3L454.8 390.3L453.8 390.4L452.8 390.2L452.0 390.1L451.2 389.9L450.5 389.6L449.9 389.2L449.2 388.8L448.8 388.4L448.2 388.0L447.5 387.5L446.8 387.2L446.0 387.2L445.2 387.3L444.2 387.5L443.5 387.5L442.5 387.6L441.7 387.8L440.8 387.9L440.0 388.0L439.2 388.0L438.5 387.7L437.9 387.2L437.3 386.7L436.8 386.4L436.0 386.0L435.2 385.9L434.2 385.8L433.5 385.7L432.8 385.3L432.2 384.9L431.8 384.3L431.5 383.8L431.0 383.0L430.7 382.5L430.2 381.9L429.8 381.5L429.0 381.0L428.5 380.8L427.8 380.3L427.2 380.0L426.6 379.5L426.0 379.0L425.5 378.7L424.8 378.3L424.0 378.0L423.2 377.9L422.2 377.9L421.2 377.8L420.5 377.6L419.8 377.3L419.3 377.0L418.6 376.5L418.0 376.0L417.5 375.5L417.0 375.1L416.5 374.7L416.0 374.2L415.2 373.8L414.8 373.5L414.0 373.0L413.5 372.7L412.8 372.2L412.2 371.9L411.7 371.5L411.1 371.0L410.7 370.5L410.2 370.0L409.7 369.5L409.1 369.0L408.5 368.6L408.0 368.2L407.3 367.8L406.8 367.3L406.2 366.9L405.8 366.3L405.3 365.8L404.8 365.2L404.3 364.8L403.8 364.3L403.2 363.9L402.7 363.5L402.2 363.0L401.8 362.4L401.4 361.8L401.0 361.0L400.8 360.3L400.5 359.5L400.3 358.8L400.0 358.0L399.8 357.2L399.6 356.5L399.8 355.7L400.1 355.0L400.5 354.4L401.0 353.8L401.3 353.2L401.8 352.6L402.2 352.0L402.7 351.5L403.2 351.2L404.0 351.0L404.8 350.7L405.5 350.4L406.2 350.0L406.8 349.6L407.3 349.2L408.0 348.9L408.8 348.6L409.5 348.4L410.3 348.2L411.2 348.1L412.0 348.0L412.9 347.8L413.8 347.5L414.5 347.4L415.2 347.2L416.2 347.1L417.3 347.0L418.0 346.9L418.8 346.6L419.4 346.2L419.8 345.8L420.2 345.0L420.2 344.0L420.3 343.2L420.4 342.2L420.8 341.6L421.2 341.0L421.8 340.5L422.2 340.0L422.6 339.5L423.0 338.8L423.2 338.1L423.5 337.5L423.8 336.8L424.0 336.0L424.3 335.2L424.5 334.4L424.8 333.6L425.0 332.8L425.2 332.0L425.3 331.2L425.5 330.5L425.8 329.5L426.0 328.8L426.2 328.0L426.5 327.4L426.9 326.8L427.2 326.1L427.7 325.5L428.1 325.0L428.5 324.5L429.0 323.8L429.3 323.2L429.8 322.7L430.2 322.1L430.7 321.5L431.2 321.0L431.5 320.5L432.0 319.9L432.5 319.2L432.9 318.8L433.4 318.2L433.9 317.8L434.5 317.2L435.0 316.9L435.6 316.5L436.2 316.1L436.8 315.7L437.4 315.2L438.0 314.8L438.5 314.4L439.1 314.0L439.8 313.6L440.3 313.2L441.0 312.8L441.5 312.3L442.0 311.8L442.5 311.4L443.1 311.0L443.8 310.6L444.2 310.2L444.8 309.8L445.3 309.2L445.8 308.5L446.0 307.9L446.2 307.0L446.3 306.2L446.4 305.2L446.5 304.5L446.7 303.5L446.8 302.8L447.1 302.0L447.4 301.2L447.8 300.6L448.2 300.0L448.7 299.5L449.2 299.1L449.8 298.7L450.3 298.2L451.0 297.8L451.5 297.3L452.0 296.8L452.3 296.2L452.6 295.5L452.9 294.8L453.1 294.0L453.4 293.2L453.6 292.5L453.9 291.8L454.2 291.0L454.5 290.2L454.8 289.7L455.1 289.0L455.5 288.5L456.0 287.9L456.5 287.4L457.0 286.9L457.5 286.3L457.9 285.8L458.2 285.2L458.6 284.5L458.8 283.7L458.8 282.8L458.8 281.8L458.8 280.8L458.8 279.8L458.9 278.8L458.9 277.8L459.0 276.8L459.2 276.0L459.4 275.2L459.6 274.5L459.7 273.5L459.6 272.5L459.4 271.8L459.2 270.9L459.0 270.0L458.8 269.2L458.6 268.5L458.3 267.8L458.0 267.1L457.8 266.2L457.6 265.5L457.5 264.5L457.5 263.8L457.4 262.8L457.4 261.8L457.4 260.8L457.3 259.8L457.2 259.0L457.1 258.0L456.9 257.2L456.7 256.5L456.4 255.8L456.1 255.0L455.9 254.2L455.6 253.5L455.4 252.8L455.1 252.0L454.8 251.3L454.4 250.8L454.0 250.2L453.5 249.5L453.2 249.0L452.8 248.4L452.3 247.8L451.9 247.2L451.5 246.7L451.0 246.0L450.6 245.5L450.2 245.0L449.8 244.4L449.3 243.8L449.0 243.2L448.8 242.4L448.6 241.5L448.5 240.8L448.3 239.8L448.1 239.0L447.9 238.2L447.8 237.2L448.0 236.4L448.3 235.8L448.6 235.0L448.8 234.2L449.0 233.3L449.1 232.5L449.2 231.7L449.5 231.0L450.0 230.3L450.5 229.8L451.0 229.4L451.7 229.0L452.4 228.8Z"/><path d="M490.0 269.0L489.2 269.0L488.2 269.1L487.3 269.2L486.5 269.4L485.7 269.5L484.8 269.6L483.8 269.7L482.9 269.8L482.0 269.9L481.2 270.0L480.4 270.2L479.8 270.5L479.0 270.8L478.2 271.1L477.5 271.3L476.8 271.5L476.0 271.9L475.3 272.2L474.8 272.5L473.9 272.8L473.0 272.9L472.0 273.0L471.2 273.1L470.4 273.2L469.6 273.5L469.0 273.8L468.4 274.2L468.0 275.0L467.8 275.8L467.7 276.5L467.7 277.5L467.8 278.3L467.8 279.2L467.7 280.0L467.6 281.0L467.6 282.0L467.7 283.0L467.8 283.9L467.8 284.8L467.9 285.8L468.0 286.6L468.2 287.5L468.3 288.2L468.3 289.2L468.2 290.0L468.0 290.8L467.6 291.5L467.2 292.0L466.8 292.8L466.5 293.4L466.2 294.0L465.8 294.8L465.5 295.5L465.2 296.2L465.0 297.0L465.0 297.8L464.9 298.8L464.9 299.8L464.9 300.8L464.7 301.5L464.4 302.2L464.0 303.0L463.7 303.5L463.2 304.2L462.8 304.8L462.5 305.2L462.0 306.0L461.8 306.6L461.5 307.3L461.3 308.2L461.4 309.2L461.5 310.1L461.7 311.0L461.9 311.8L462.1 312.5L462.3 313.2L462.4 314.2L462.3 315.2L462.2 316.0L461.9 316.8L461.6 317.5L461.2 318.1L460.8 318.8L460.3 319.2L459.9 319.8L459.4 320.2L459.0 320.8L458.5 321.5L458.2 322.0L457.8 322.8L457.6 323.5L457.5 324.2L457.4 325.2L457.4 326.2L457.4 327.2L457.3 328.2L457.2 329.0L456.9 329.8L456.6 330.5L456.2 331.1L455.8 331.8L455.5 332.2L455.0 332.9L454.6 333.5L454.2 334.1L453.9 334.8L453.5 335.5L453.3 336.2L453.0 337.0L452.8 337.8L452.6 338.5L452.4 339.2L452.4 340.2L452.5 341.0L452.7 342.0L452.9 342.8L453.1 343.5L453.4 344.2L453.7 345.0L454.0 345.6L454.3 346.2L454.6 347.0L455.0 347.7L455.5 348.2L456.0 348.6L456.6 349.0L457.2 349.4L457.8 349.8L458.5 350.2L459.0 350.6L459.6 351.0L460.2 351.5L460.8 351.8L461.5 352.1L462.5 352.2L463.2 352.3L464.2 352.3L465.2 352.3L466.2 352.5L467.0 352.6L468.0 352.7L468.8 352.8L469.8 352.8L470.5 352.7L471.5 352.5L472.2 352.3L473.0 352.1L473.8 351.8L474.5 351.6L475.2 351.3L476.0 351.1L476.8 351.0L477.8 350.8L478.5 350.7L479.5 350.7L480.5 350.6L481.2 350.5L482.2 350.3L483.0 350.1L483.8 349.9L484.5 349.7L485.4 349.5L486.0 349.2L486.6 348.8L487.2 348.2L487.6 347.8L488.1 347.2L488.5 346.8L489.0 346.2L489.6 345.8L490.2 345.2L490.8 345.0L491.5 344.6L492.2 344.3L492.8 343.9L493.3 343.5L493.8 343.0L494.1 342.2L494.4 341.5L494.6 340.8L494.8 340.0L495.0 339.0L495.2 338.2L495.5 337.5L495.8 336.9L496.1 336.2L496.4 335.5L496.7 334.8L497.0 334.2L497.4 333.5L497.8 332.9L498.1 332.2L498.3 331.5L498.5 330.5L498.5 329.8L498.6 328.8L498.8 327.8L499.0 327.0L499.2 326.3L499.5 325.8L499.9 325.0L500.3 324.5L500.8 323.8L501.1 323.2L501.5 322.7L501.9 322.0L502.3 321.5L502.8 320.9L503.2 320.3L503.6 319.8L504.0 319.2L504.4 318.5L504.7 317.8L505.0 317.2L505.3 316.5L505.6 315.8L506.0 315.0L506.2 314.4L506.6 313.8L507.0 313.0L507.3 312.5L507.8 311.8L508.2 311.2L508.7 310.8L509.2 310.2L509.7 309.8L510.2 309.2L510.7 308.8L511.2 308.2L511.7 307.8L512.2 307.2L512.6 306.8L513.0 306.1L513.3 305.5L513.6 304.8L513.9 304.0L514.2 303.3L514.6 302.8L515.0 302.1L515.4 301.5L515.8 301.0L516.1 300.2L516.4 299.5L516.6 298.8L516.7 297.8L516.8 297.0L516.8 296.0L517.0 295.0L517.1 294.2L517.4 293.5L517.7 292.8L518.0 292.1L518.3 291.5L518.7 290.8L519.0 290.1L519.2 289.2L519.1 288.2L519.0 287.2L519.1 286.2L519.1 285.2L519.2 284.2L519.2 283.2L519.3 282.5L519.5 281.7L519.7 280.8L519.8 280.0L519.8 279.0L519.7 278.2L519.4 277.5L519.0 276.9L518.5 276.4L518.0 275.9L517.5 275.4L517.0 274.9L516.5 274.5L515.9 274.0L515.3 273.5L514.8 273.0L514.2 272.6L513.8 272.2L513.0 271.8L512.2 271.6L511.2 271.5L510.2 271.5L509.2 271.6L508.2 271.7L507.5 271.8L506.8 271.7L505.8 271.6L505.0 271.5L504.0 271.3L503.2 271.2L502.2 271.1L501.2 271.0L500.5 270.9L499.7 270.7L499.0 270.5L498.2 270.2L497.5 270.0L496.7 269.8L496.0 269.5L495.2 269.2L494.2 269.0L493.5 268.9L492.5 268.8L491.5 268.8L490.5 268.9Z"/><path d="M452.3 232.2L453.2 232.2L453.9 232.5L454.5 233.0L455.0 233.5L455.5 233.9L456.0 234.5L456.4 235.0L456.8 235.5L457.2 236.2L457.6 236.8L458.0 237.3L458.5 238.0L458.8 238.5L459.0 239.5L459.0 240.2L459.1 241.2L459.2 242.2L459.4 243.0L459.6 243.8L459.8 244.5L460.1 245.2L460.5 245.8L461.0 246.4L461.5 246.9L462.0 247.5L462.2 248.2L462.5 249.0L462.8 249.5L463.4 250.0L463.9 250.5L464.3 251.0L464.8 251.6L465.1 252.2L465.5 252.8L466.0 253.2L466.8 253.6L467.5 253.8L468.2 254.2L468.8 254.6L469.2 255.1L469.8 255.7L470.2 256.2L470.8 256.7L471.2 257.2L471.6 257.8L472.0 258.3L472.5 258.9L473.0 259.4L473.5 259.8L474.2 260.2L474.8 260.6L475.3 261.0L476.0 261.5L476.5 261.9L477.0 262.3L477.7 262.8L478.2 263.0L479.2 263.1L480.0 262.9L481.0 262.9L481.5 263.5L481.1 264.2L480.2 264.5L479.5 264.6L478.8 264.8L478.0 265.2L477.5 265.6L477.0 266.1L476.5 266.7L476.0 267.2L475.5 267.6L474.9 268.0L474.3 268.5L473.8 269.0L473.5 269.5L473.0 270.2L472.5 270.6L471.8 270.9L471.0 271.1L470.2 271.3L469.5 271.5L468.8 271.8L468.0 272.2L467.4 272.5L466.8 272.9L466.2 273.2L465.6 273.8L465.2 274.2L464.8 274.9L464.5 275.5L464.3 276.5L464.2 277.2L464.0 278.2L463.9 279.0L464.0 279.8L464.4 280.5L464.8 281.0L465.2 281.8L465.5 282.3L465.8 283.0L466.0 284.0L466.0 284.8L466.2 285.8L466.3 286.5L466.5 287.2L466.8 288.1L466.8 289.0L466.6 289.8L466.2 290.3L465.8 290.8L465.2 291.2L464.6 291.8L464.0 292.2L463.5 292.7L463.0 293.1L462.5 293.5L461.9 294.0L461.2 294.4L460.7 294.8L460.0 295.1L459.2 295.5L458.8 295.8L458.1 296.2L457.5 296.6L456.8 296.3L456.4 295.8L456.3 294.8L456.5 293.9L456.7 293.0L456.8 292.2L456.8 291.2L456.7 290.5L456.8 289.8L457.2 289.1L457.8 288.7L458.4 288.2L459.0 287.9L459.5 287.5L460.0 287.0L460.5 286.4L460.9 285.8L461.2 285.0L461.5 284.2L461.6 283.5L461.6 282.5L461.6 281.5L461.7 280.5L461.5 279.5L461.2 278.8L461.0 278.2L460.7 277.5L460.7 276.5L461.0 275.8L461.2 275.2L461.6 274.5L461.9 273.8L461.9 272.8L461.8 271.8L461.6 271.0L461.4 270.2L461.2 269.5L461.0 268.7L460.8 267.9L460.5 267.2L460.2 266.5L459.9 265.8L459.6 265.0L459.4 264.2L459.4 263.2L459.5 262.5L459.7 261.5L459.8 260.8L459.7 260.0L459.7 259.0L459.9 258.2L460.2 257.6L460.5 256.9L460.7 256.0L460.5 255.0L460.2 254.3L460.0 253.6L459.8 252.8L459.7 252.0L459.6 251.0L459.2 250.4L458.7 250.0L458.0 249.6L457.2 249.3L456.7 249.0L456.0 248.6L455.4 248.2L454.8 247.8L454.2 247.5L453.6 247.0L453.0 246.5L452.5 246.0L452.1 245.5L451.8 245.0L451.2 244.4L450.8 243.9L450.2 243.4L449.9 242.8L450.0 242.0L450.5 241.3L451.0 240.9L451.8 240.6L452.4 240.2L452.9 239.8L453.2 239.0L453.0 238.2L452.5 237.5L452.2 236.9L452.0 236.0L452.0 235.0L452.0 234.2L451.9 233.2L452.1 232.5Z"/><path d="M498.6 260.0L499.5 260.0L500.2 260.1L501.0 260.3L501.8 260.5L502.5 260.8L503.2 261.0L504.0 261.3L504.8 261.7L505.2 262.0L505.9 262.5L506.5 262.9L507.0 263.3L507.7 263.8L508.2 264.2L508.8 264.5L509.5 264.8L510.2 265.0L511.2 265.2L512.0 265.4L512.5 265.8L512.8 266.5L512.5 267.2L512.0 267.5L511.2 267.8L510.5 268.1L509.8 268.5L509.2 268.9L508.8 269.3L508.0 269.7L507.4 270.0L506.5 270.1L505.7 270.0L505.0 269.7L504.4 269.2L503.9 268.8L503.2 268.3L502.2 268.3L501.3 268.5L500.6 268.5L499.8 268.3L499.0 268.1L498.3 267.8L497.8 267.4L497.2 267.0L496.7 266.5L496.3 265.8L496.0 265.1L495.9 264.2L496.0 263.5L496.2 262.6L496.5 262.0L496.9 261.2L497.3 260.8L497.9 260.2L498.6 260.0Z"/><path d="M521.4 271.2L522.2 271.2L523.0 271.5L523.8 271.7L524.8 271.7L525.5 271.8L526.5 271.9L527.2 272.0L528.2 272.2L529.0 272.4L529.8 272.5L530.8 272.7L531.5 272.9L532.2 273.1L533.0 273.5L533.4 274.0L533.6 274.8L533.6 275.8L533.4 276.5L533.1 277.2L532.8 277.8L532.3 278.5L532.0 279.0L531.6 279.8L531.3 280.5L531.2 281.2L531.2 282.2L531.3 283.0L531.5 284.0L531.5 284.8L531.4 285.5L531.1 286.2L530.9 287.0L530.6 287.8L530.2 288.3L529.8 289.0L529.5 289.5L529.1 290.2L529.0 291.0L528.8 292.0L528.9 293.0L529.0 294.0L529.1 294.8L529.0 295.7L528.8 296.4L528.3 297.0L527.8 297.4L527.0 297.8L526.5 298.0L525.8 298.4L525.2 298.8L524.8 299.4L524.5 300.0L524.2 300.8L524.0 301.8L524.0 302.8L524.0 303.8L524.0 304.5L523.9 305.5L524.0 306.2L524.2 307.2L524.2 308.1L524.3 309.0L524.2 309.8L524.2 310.8L524.3 311.5L524.4 312.5L524.4 313.5L524.4 314.5L524.2 315.5L524.1 316.2L523.9 317.0L523.8 318.0L523.7 318.8L523.7 319.8L523.6 320.8L523.4 321.5L523.1 322.2L522.8 322.8L522.2 323.3L521.8 323.8L521.2 324.3L520.8 325.0L520.5 325.5L520.1 326.2L519.8 327.0L519.7 327.8L520.0 328.5L520.5 329.0L521.2 329.2L522.0 329.3L523.0 329.3L523.8 329.5L524.4 330.0L524.6 330.8L524.4 331.5L524.0 332.1L523.5 332.7L523.0 333.1L522.5 333.5L521.8 333.9L521.2 334.2L520.6 334.8L520.2 335.3L519.9 336.0L519.5 336.5L518.9 337.0L518.2 337.3L517.5 337.7L516.8 338.0L516.2 338.3L515.6 338.8L515.1 339.2L514.8 339.8L514.4 340.5L514.1 341.2L513.8 342.0L513.5 342.5L513.0 343.2L512.6 343.8L512.1 344.2L511.5 344.7L511.0 345.1L510.5 345.6L510.0 346.0L509.4 346.5L508.8 346.9L508.0 347.1L507.0 347.2L506.3 347.5L505.8 348.0L505.6 348.8L505.6 349.8L505.5 350.6L505.2 351.2L504.8 351.8L504.3 352.5L503.9 353.0L503.5 353.5L502.9 354.0L502.2 354.4L501.5 354.7L501.0 355.0L500.2 355.4L499.5 355.7L498.8 356.0L498.0 356.2L497.5 356.6L497.0 357.1L496.6 357.8L496.4 358.5L496.2 359.2L496.0 360.1L495.8 361.0L495.5 361.8L495.2 362.2L494.8 363.0L494.5 363.5L494.2 364.2L493.9 365.0L493.6 365.8L493.2 366.4L492.9 367.0L492.5 367.6L492.0 368.2L491.5 368.8L491.0 369.2L490.4 369.5L489.5 369.7L488.7 369.5L488.0 369.1L487.5 368.7L486.9 368.2L486.3 368.0L485.5 368.2L485.0 368.5L484.5 369.0L484.0 369.8L483.8 370.5L483.7 371.2L483.8 372.1L483.8 373.0L483.7 373.8L483.4 374.5L482.9 375.0L482.3 375.5L481.8 375.8L481.0 376.1L480.2 376.3L479.2 376.3L478.2 376.3L477.5 376.2L476.8 376.3L476.0 376.5L475.2 376.9L474.8 377.3L474.2 377.8L473.8 378.3L473.0 378.7L472.0 378.6L471.2 378.4L470.2 378.5L469.8 378.9L469.4 379.5L469.1 380.2L468.8 380.8L468.2 381.3L467.7 381.8L467.0 382.2L466.3 382.5L465.6 382.8L464.8 382.9L464.0 383.0L463.0 383.2L462.2 383.4L461.7 383.8L461.0 384.1L460.4 384.5L459.8 384.8L459.0 385.2L458.4 385.5L457.8 386.0L457.3 386.5L457.0 387.0L456.5 387.7L456.0 388.2L455.5 388.6L454.8 388.8L454.0 388.7L453.2 388.3L452.8 387.8L452.5 387.0L452.3 386.2L452.2 385.5L452.0 384.8L451.6 384.0L451.2 383.5L450.8 382.9L450.2 382.5L449.5 382.1L448.8 381.8L448.0 381.5L447.2 381.4L446.2 381.5L445.5 381.8L445.0 382.1L444.4 382.5L443.8 383.0L443.2 383.2L442.2 383.5L441.2 383.4L440.5 383.2L439.7 383.0L439.0 382.7L438.4 382.2L437.8 381.8L437.2 381.4L436.8 380.9L436.2 380.4L435.8 379.8L435.3 379.2L434.8 378.8L434.2 378.3L433.8 377.9L433.2 377.5L432.7 377.0L432.2 376.4L431.9 375.8L431.8 374.9L431.7 374.0L431.5 373.2L431.0 372.7L430.3 372.2L429.8 372.0L429.0 371.7L428.0 371.6L427.2 371.8L426.5 372.1L425.8 372.5L425.2 372.8L424.5 373.1L423.8 373.3L423.0 373.5L422.1 373.8L421.4 374.0L420.5 374.2L419.5 374.1L418.8 373.8L418.2 373.3L417.8 372.8L417.2 372.3L416.8 371.8L416.2 371.3L415.8 370.8L415.4 370.2L414.9 369.8L414.2 369.3L413.8 369.0L413.0 368.6L412.3 368.2L411.8 368.0L411.0 367.6L410.2 367.3L409.5 367.0L408.8 366.8L408.0 366.5L407.5 366.1L407.1 365.5L406.8 364.8L406.5 364.0L406.0 363.5L405.4 363.2L404.5 363.1L403.8 362.8L403.2 362.5L402.7 362.0L402.2 361.3L402.0 360.5L401.9 359.8L401.9 358.8L402.0 358.0L402.2 357.0L402.5 356.4L402.9 355.8L403.4 355.2L403.9 354.8L404.5 354.5L405.3 354.2L406.2 354.2L407.2 354.1L408.0 353.9L408.7 353.6L409.2 353.2L409.9 352.8L410.5 352.3L411.2 352.1L412.1 352.2L412.8 352.5L413.5 352.8L414.2 353.1L415.0 353.2L416.0 353.4L416.8 353.5L417.6 353.8L418.5 353.9L419.5 353.8L420.0 353.5L420.7 353.0L421.2 352.6L421.8 352.2L422.6 352.0L423.5 351.9L424.5 351.8L425.2 351.7L426.0 351.4L426.7 351.0L427.2 350.5L427.6 350.0L428.0 349.2L428.2 348.5L428.5 347.8L428.4 346.8L428.0 346.1L427.5 345.7L427.0 345.2L426.5 344.8L426.1 344.0L426.0 343.0L426.1 342.0L426.1 341.0L426.2 340.0L426.4 339.2L426.6 338.5L426.9 337.8L427.2 337.0L427.5 336.4L427.8 335.8L428.3 335.2L429.0 334.8L429.8 334.6L430.5 334.4L431.0 334.0L431.3 333.2L431.2 332.5L430.9 331.8L430.6 331.0L430.3 330.2L430.2 329.5L430.2 328.6L430.6 328.0L431.2 327.5L431.8 327.1L432.2 326.7L432.7 326.0L433.1 325.5L433.5 325.0L434.1 324.5L434.8 324.1L435.3 323.8L435.9 323.2L436.3 322.8L436.8 322.0L437.1 321.5L437.5 321.0L438.1 320.5L438.7 320.0L439.2 319.5L439.8 319.1L440.3 318.8L441.2 318.6L442.0 318.8L442.5 319.3L443.0 319.9L443.5 320.4L444.0 320.8L444.8 320.7L445.4 320.2L445.8 319.8L446.2 319.0L446.4 318.2L446.7 317.5L447.0 316.8L447.3 316.2L447.4 315.2L447.0 314.6L446.2 314.3L445.2 314.4L444.2 314.3L443.8 314.0L443.6 313.0L444.0 312.5L444.8 312.1L445.5 311.9L446.2 311.7L447.0 311.5L447.8 311.0L448.2 310.6L448.8 310.1L449.1 309.5L449.5 308.8L449.7 308.0L449.8 307.2L449.7 306.5L449.2 305.8L448.9 305.2L448.5 304.6L448.2 303.9L448.2 303.0L448.3 302.2L448.6 301.5L449.2 301.0L450.0 300.8L451.0 300.9L451.8 301.1L452.5 301.5L453.2 301.7L454.0 301.5L454.8 301.2L455.5 300.8L456.0 300.4L456.5 299.9L457.0 299.4L457.8 299.1L458.2 299.5L458.8 300.2L459.0 300.8L459.3 301.5L459.4 302.5L459.2 303.2L458.8 304.0L458.5 304.5L458.0 305.2L457.8 305.8L457.5 306.5L457.3 307.5L457.5 308.3L457.8 309.1L458.0 309.9L458.2 310.8L458.3 311.5L458.5 312.5L458.5 313.2L458.4 314.0L458.0 314.6L457.5 315.2L457.0 315.6L456.5 316.1L456.0 316.5L455.4 317.0L455.0 317.5L454.6 318.2L454.4 319.0L454.2 319.8L453.9 320.5L453.6 321.2L453.2 321.8L452.9 322.5L452.7 323.2L452.6 324.2L452.4 325.0L452.0 325.6L451.2 325.9L450.2 325.8L449.5 325.7L448.5 325.6L447.5 325.6L446.8 325.8L446.0 326.0L445.2 326.4L444.5 326.7L443.8 326.9L443.0 326.6L443.0 325.9L443.2 325.2L443.2 324.3L442.5 324.2L442.1 324.8L442.1 325.8L442.4 326.5L442.2 327.2L441.9 328.0L441.5 328.8L441.3 329.5L441.1 330.2L441.1 331.2L441.4 332.0L441.7 332.8L442.0 333.5L442.2 334.1L442.5 334.8L442.8 335.6L442.9 336.5L443.0 337.5L443.0 338.2L443.1 339.2L443.2 340.2L443.5 341.0L443.8 341.5L444.4 342.0L445.0 342.3L445.7 342.8L446.2 343.1L446.8 343.7L447.1 344.2L447.2 345.2L447.0 346.1L446.8 346.8L446.5 347.5L446.3 348.5L446.3 349.5L446.5 350.5L446.7 351.2L447.0 352.0L447.2 352.8L447.5 353.3L447.9 354.0L448.5 354.5L449.1 354.8L450.0 354.9L451.0 355.0L451.8 355.0L452.8 355.1L453.8 355.1L454.5 355.0L455.2 354.6L455.8 354.2L456.5 353.8L457.0 353.3L457.5 352.9L458.0 352.8L458.8 353.1L459.0 353.8L458.9 354.5L458.5 355.2L458.1 355.8L457.7 356.2L457.4 357.0L457.2 357.8L457.2 358.8L457.5 359.5L457.9 360.0L458.5 360.5L459.0 360.8L459.8 361.0L460.8 361.2L461.5 361.0L462.2 360.6L462.8 360.2L463.4 359.8L464.0 359.3L464.7 359.0L465.5 358.8L466.2 358.7L467.0 359.0L467.5 359.3L468.2 359.6L469.2 359.6L469.9 359.2L470.5 358.9L471.2 358.5L471.8 358.2L472.4 357.8L473.0 357.3L473.5 356.9L474.0 356.3L474.4 355.8L474.7 355.0L475.0 354.2L475.5 353.8L476.2 354.2L476.5 355.0L476.7 355.8L477.0 356.3L477.6 356.8L478.5 356.9L479.5 356.9L480.5 356.8L481.2 356.7L482.2 356.6L483.2 356.6L484.1 356.8L484.9 357.0L485.8 357.2L486.5 357.3L487.2 357.1L488.0 356.8L488.5 356.3L489.0 355.8L489.3 355.2L489.8 354.6L490.1 354.0L490.5 353.4L491.0 352.8L491.4 352.2L491.9 351.8L492.5 351.3L493.1 351.0L493.8 350.7L494.5 350.3L495.0 349.9L495.4 349.2L495.8 348.6L496.0 347.9L496.3 347.2L496.6 346.5L496.9 345.8L497.2 345.0L497.5 344.2L497.6 343.5L497.7 342.5L497.7 341.5L497.5 340.5L497.4 339.8L497.4 338.8L497.5 338.0L497.8 337.2L498.1 336.5L498.5 335.8L498.8 335.2L499.2 334.5L499.6 334.0L500.0 333.4L500.2 332.5L500.2 332.0L500.1 331.0L499.9 330.2L499.8 329.5L499.7 328.5L499.8 327.7L500.0 327.0L500.5 326.2L500.8 325.8L501.2 325.2L501.8 324.7L502.2 324.2L502.8 323.7L503.3 323.2L504.0 322.9L504.8 322.6L505.5 322.4L506.2 322.2L507.0 322.0L508.0 321.8L508.8 321.6L509.5 321.4L510.2 321.1L511.0 320.8L511.5 320.5L512.1 320.0L512.3 319.2L512.3 318.2L512.3 317.2L512.5 316.2L512.6 315.5L512.5 314.5L512.2 313.8L511.9 313.2L511.6 312.5L511.7 311.5L512.0 310.8L512.4 310.2L512.8 309.8L513.4 309.2L514.0 308.8L514.5 308.3L515.0 307.9L515.5 307.4L516.0 307.0L516.8 306.6L517.5 306.3L518.2 306.1L518.9 305.8L519.4 305.2L519.8 304.5L519.9 303.8L520.0 303.0L520.2 302.0L520.4 301.2L520.4 300.2L520.5 299.3L520.8 298.5L521.1 298.0L521.5 297.5L522.0 296.9L522.5 296.2L522.8 295.6L523.0 294.8L523.2 294.1L523.5 293.4L523.7 292.5L523.5 291.5L523.2 291.0L522.8 290.2L522.5 289.7L522.0 289.1L521.5 288.7L520.9 288.2L520.2 287.9L519.7 287.5L519.2 286.9L519.1 286.0L519.2 285.0L519.3 284.2L519.5 283.3L519.8 282.6L520.0 281.9L520.3 281.2L520.5 280.5L520.7 279.5L520.8 278.8L520.9 277.8L521.0 277.0L521.3 276.2L521.6 275.5L521.9 274.8L521.8 273.8L521.6 273.0L521.3 272.2L521.2 271.7Z"/><path d="M543.8 288.0L544.8 287.9L545.8 287.9L546.8 288.0L547.4 288.2L548.0 288.6L548.5 289.0L549.1 289.5L549.7 290.0L550.1 290.5L550.5 291.0L550.9 291.8L550.8 292.7L550.3 293.2L549.8 293.5L548.8 293.7L547.8 293.6L547.0 293.5L546.0 293.4L545.0 293.4L544.2 293.5L543.2 293.7L542.5 293.8L541.8 293.6L541.1 293.2L540.8 292.5L540.7 291.8L540.7 290.8L540.9 290.0L541.3 289.5L541.8 289.0L542.3 288.5L543.0 288.2L543.8 288.0Z"/><path d="M464.2 354.2L464.8 354.3L465.7 354.5L466.2 354.8L466.8 355.3L467.1 356.0L466.9 356.8L466.3 357.2L465.5 357.5L464.5 357.4L463.6 357.2L462.9 357.0L462.3 356.5L462.0 356.0L462.0 355.2L462.5 354.7L463.2 354.4L464.2 354.2Z"/><path d="M455.1 241.2L456.0 241.2L456.5 241.5L457.0 242.2L457.3 242.8L457.6 243.5L457.8 244.2L458.0 245.3L458.1 246.0L457.9 246.8L457.0 246.9L456.3 246.5L455.8 246.1L455.3 245.7L454.8 245.2L454.2 244.6L453.9 244.0L453.6 243.2L453.8 242.5L454.2 241.9L454.8 241.4Z"/><path d="M466.1 258.5L467.0 258.3L468.0 258.3L469.0 258.4L469.7 258.8L470.2 259.2L470.8 259.7L471.2 260.2L471.7 260.8L472.2 261.2L472.8 261.6L473.3 262.0L474.0 262.5L474.5 263.0L474.8 263.5L474.8 264.5L474.4 265.0L473.9 265.5L473.2 265.9L472.8 266.3L472.2 266.8L471.8 267.5L471.5 268.1L471.1 268.8L470.5 269.2L469.9 269.5L469.0 269.6L468.0 269.5L467.2 269.4L466.3 269.5L465.8 269.8L465.0 270.2L464.4 269.8L464.0 269.2L463.5 268.6L463.1 268.0L462.8 267.5L462.5 266.8L462.4 265.8L462.5 265.0L462.9 264.2L463.2 263.7L463.7 263.0L464.0 262.5L464.3 261.8L464.5 261.0L464.8 260.0L465.0 259.4L465.5 258.8L466.1 258.5Z"/><path d="M499.1 262.0L500.0 261.9L500.8 262.1L501.3 262.5L501.8 263.0L502.1 263.8L502.1 264.8L501.7 265.2L501.0 265.8L500.4 266.0L499.5 266.1L498.8 265.9L498.2 265.5L497.8 264.8L497.8 263.8L498.1 263.0L498.5 262.4L499.1 262.0Z"/><path d="M526.0 274.0L526.8 274.0L527.5 274.2L528.2 274.4L528.9 274.8L529.5 275.2L529.8 275.8L530.0 276.8L529.9 277.8L529.6 278.5L529.3 279.2L529.0 280.0L528.7 280.5L528.4 281.2L528.2 282.0L528.0 283.0L527.9 283.8L527.6 284.5L527.0 284.9L526.2 285.0L525.2 285.0L524.2 285.0L523.5 285.0L522.8 284.6L522.4 284.0L522.2 283.2L522.2 282.2L522.3 281.5L522.4 280.5L522.5 279.8L522.8 279.0L523.2 278.4L523.8 277.9L524.2 277.4L524.7 276.8L525.0 276.1L525.2 275.2L525.4 274.5L526.0 274.0Z"/><path d="M462.0 288.2L462.8 288.1L463.1 288.8L463.0 289.5L462.5 290.1L461.9 290.5L461.2 290.9L460.6 290.5L460.8 289.7L461.2 289.0L461.7 288.5Z"/><path d="M520.0 308.0L520.6 308.0L521.2 308.5L521.4 309.2L521.3 310.2L521.1 311.0L521.0 311.8L521.1 312.5L521.3 313.2L521.5 314.2L521.5 315.0L521.5 315.8L521.4 316.8L521.2 317.5L520.9 318.2L520.5 318.8L520.0 319.3L519.5 319.8L519.0 320.2L518.7 321.0L518.8 321.9L518.9 322.8L519.0 323.7L518.8 324.8L518.5 325.5L518.2 326.0L517.8 326.8L517.5 327.5L517.3 328.2L517.5 329.2L517.8 329.9L518.1 330.5L518.3 331.2L518.2 332.0L517.8 332.8L517.4 333.2L516.9 333.8L516.2 334.1L515.5 334.4L514.8 334.6L514.0 334.9L513.4 335.2L512.8 335.6L512.2 336.0L511.9 336.8L512.0 337.5L512.1 338.5L512.0 339.3L511.8 340.2L511.6 341.0L511.4 341.8L511.0 342.5L510.5 343.0L510.0 343.4L509.5 343.8L508.8 344.2L508.1 344.5L507.2 344.6L506.2 344.5L505.6 344.2L505.0 343.7L504.7 343.2L504.3 342.5L504.0 341.7L503.8 341.0L503.5 340.2L503.2 339.7L502.8 339.0L502.4 338.5L502.0 338.0L501.8 337.0L502.0 336.1L502.2 335.5L502.5 334.7L502.7 333.8L502.8 333.0L502.6 332.2L502.4 331.5L502.0 330.8L501.8 330.2L501.5 329.4L501.4 328.5L501.6 327.8L501.9 327.0L502.3 326.5L502.8 326.0L503.3 325.5L504.0 325.0L504.5 324.7L505.2 324.4L506.0 324.1L506.8 323.9L507.5 323.8L508.5 323.6L509.2 323.4L510.2 323.3L511.0 323.2L511.9 323.0L512.6 322.8L513.2 322.5L514.0 322.1L514.7 321.8L515.2 321.3L515.8 320.8L516.1 320.2L516.2 319.2L516.0 318.5L515.8 317.7L515.6 316.8L515.6 315.8L515.7 314.8L515.8 313.9L516.0 313.2L516.5 312.6L517.0 312.2L517.5 311.7L517.8 311.0L517.9 310.0L518.1 309.2L518.6 308.8L519.2 308.3L520.0 308.0Z"/><path d="M452.9 310.8L453.8 310.5L454.1 311.2L454.1 312.2L454.1 313.2L454.0 314.0L453.6 314.8L453.1 315.2L452.5 315.7L451.8 316.0L451.2 316.0L450.8 315.5L450.4 314.8L450.1 314.0L450.0 313.0L450.3 312.2L450.8 311.7L451.5 311.3L452.2 311.0L452.9 310.8Z"/><path d="M438.0 333.0L438.8 333.0L439.5 333.2L440.0 333.5L440.5 334.0L441.0 334.6L441.3 335.2L441.6 336.0L441.7 337.0L441.8 337.8L441.8 338.8L441.8 339.8L441.8 340.5L441.7 341.5L441.6 342.5L441.7 343.5L442.0 344.2L442.6 344.5L443.2 344.8L443.9 345.2L444.2 346.0L444.1 347.0L444.0 348.0L444.0 349.0L444.2 350.0L444.4 350.8L444.7 351.5L445.1 352.0L445.5 352.7L445.8 353.2L446.1 354.0L446.4 354.8L446.8 355.3L447.2 355.9L447.7 356.3L448.5 356.7L449.2 356.9L450.0 357.0L451.0 357.1L452.0 357.2L452.8 357.5L453.5 357.8L454.0 358.0L454.6 358.5L455.0 359.1L455.4 359.8L455.8 360.5L456.1 361.0L456.5 361.5L457.1 362.0L457.8 362.4L458.5 362.7L459.2 362.9L460.0 363.1L461.0 363.1L461.8 363.0L462.6 362.8L463.3 362.5L464.1 362.2L465.0 362.2L465.8 362.2L466.7 362.5L467.5 362.7L468.2 362.9L469.2 362.9L470.0 362.7L470.8 362.4L471.5 362.0L472.2 361.8L473.2 361.8L474.2 361.8L475.0 361.7L475.8 361.5L476.5 361.0L477.0 360.6L477.5 360.2L478.2 359.8L478.8 359.5L479.5 359.2L480.2 359.0L481.2 358.8L482.2 359.0L482.8 359.2L483.5 359.7L483.9 360.2L484.1 361.0L483.8 361.8L483.5 362.3L483.0 363.0L482.7 363.5L482.4 364.2L482.4 365.2L482.5 366.0L482.6 367.0L482.4 367.8L482.1 368.5L481.8 369.0L481.2 369.6L480.5 370.0L479.7 370.2L478.8 370.1L478.0 369.9L477.2 370.0L476.5 370.4L476.0 371.0L475.7 371.5L475.2 372.1L474.8 372.8L474.3 373.2L473.8 373.5L473.0 373.9L472.4 374.2L471.8 374.6L471.0 374.9L470.3 375.1L469.5 375.3L468.5 375.3L467.8 375.2L466.8 375.1L466.0 374.9L465.0 375.0L464.5 375.5L464.3 376.2L464.4 377.2L464.5 378.3L464.2 379.1L463.8 379.5L463.0 380.0L462.5 380.2L461.8 380.8L461.2 381.2L460.8 381.8L460.4 382.2L459.9 382.8L459.2 383.2L458.7 383.5L458.0 383.8L457.2 384.1L456.5 384.4L455.9 384.8L455.0 384.9L454.3 384.5L453.8 384.0L453.4 383.5L452.9 383.0L452.5 382.5L452.0 382.0L451.5 381.5L451.0 380.9L450.5 380.4L450.0 379.8L449.5 379.2L449.0 378.8L448.5 378.3L448.0 378.0L447.0 377.8L446.0 378.0L445.4 378.2L444.8 378.6L444.2 379.1L443.8 379.6L443.2 380.0L442.5 380.4L441.5 380.3L441.0 380.0L440.5 379.5L440.0 379.0L439.4 378.5L438.8 378.0L438.3 377.5L438.0 377.0L438.0 376.0L438.2 375.2L438.3 374.5L438.0 373.9L437.3 373.5L436.5 373.3L435.8 373.1L435.2 372.8L434.7 372.2L434.2 371.6L433.8 371.2L433.0 370.9L432.2 370.6L431.5 370.4L430.8 370.2L430.0 370.0L429.1 369.8L428.2 369.6L427.2 369.6L426.5 369.8L425.9 370.2L425.3 370.8L424.8 371.2L424.0 371.5L423.2 371.7L422.2 371.7L421.2 371.6L420.5 371.5L419.8 371.2L419.2 370.8L418.7 370.2L418.4 369.5L418.2 368.8L418.2 368.0L418.5 367.1L419.0 366.6L419.5 366.2L420.2 365.9L420.8 365.5L421.2 364.9L421.6 364.2L421.8 363.5L421.8 362.5L421.7 361.8L421.5 361.0L421.2 360.2L420.9 359.5L421.0 358.7L421.3 358.0L421.6 357.2L422.0 356.7L422.5 356.0L423.0 355.5L423.5 355.1L424.1 354.8L424.8 354.5L425.8 354.4L426.8 354.4L427.8 354.4L428.7 354.3L429.3 354.0L429.7 353.2L429.8 352.5L429.9 351.5L430.0 350.7L430.2 349.8L430.5 349.0L430.8 348.3L431.0 347.7L431.3 347.0L431.6 346.2L431.8 345.5L431.3 345.0L430.8 344.7L430.0 344.3L429.5 343.9L429.0 343.5L428.5 342.9L428.2 342.2L427.9 341.5L427.8 340.5L427.8 339.5L428.1 338.8L428.4 338.0L428.8 337.5L429.3 337.0L430.0 336.7L431.0 336.5L431.8 336.4L432.5 336.1L433.0 335.7L433.5 335.2L434.0 334.7L434.5 334.2L435.2 333.8L436.0 333.5L436.7 333.2L437.5 333.1Z"/><path d="M500.5 343.5L501.3 343.3L502.0 343.5L502.7 344.0L503.0 344.7L503.0 345.5L502.8 346.2L502.6 347.0L502.2 347.7L502.0 348.4L501.8 349.2L501.6 350.0L501.5 350.8L501.2 351.5L500.7 352.0L499.8 352.2L498.9 352.0L498.2 351.6L497.8 351.0L497.6 350.2L497.7 349.2L497.8 348.5L498.0 347.8L498.3 347.0L498.6 346.2L499.0 345.5L499.3 345.0L499.8 344.3L500.2 343.8Z"/><path d="M493.4 353.8L494.2 353.7L494.5 354.2L494.5 355.0L494.3 356.0L494.0 356.6L493.5 357.0L492.6 357.0L492.0 356.7L491.5 356.0L491.8 355.2L492.2 354.6L492.8 354.1L493.4 353.8Z"/><path d="M406.0 356.2L406.7 356.1L407.8 356.1L408.8 356.2L409.5 356.3L410.5 356.4L411.5 356.4L412.4 356.5L413.2 356.7L414.0 356.8L415.0 356.9L415.9 356.8L416.8 356.6L417.8 356.5L418.7 356.8L419.2 357.0L419.8 357.5L420.1 358.2L420.0 359.2L419.5 359.8L419.0 360.2L418.5 360.6L418.0 361.1L417.6 361.8L417.3 362.5L417.0 363.2L416.8 363.8L416.2 364.3L415.5 364.7L414.8 364.9L414.0 365.0L413.0 365.2L412.0 365.1L411.2 364.8L410.8 364.5L410.5 363.8L410.6 363.0L410.8 362.2L410.9 361.2L410.8 360.2L410.4 359.8L409.8 359.3L409.0 359.2L408.0 359.1L407.0 359.0L406.3 358.8L405.8 358.3L405.5 357.8L405.5 356.8L406.0 356.2Z"/><path d="M466.9 261.0L467.8 260.8L468.5 261.0L469.2 261.4L469.8 261.9L470.2 262.4L470.6 263.0L470.8 263.8L470.6 264.5L470.2 265.0L469.7 265.7L469.2 266.2L468.5 266.5L467.8 266.6L466.8 266.6L466.0 266.4L465.5 266.0L465.3 265.0L465.5 264.2L465.8 263.4L466.0 262.6L466.2 261.8L466.6 261.2Z"/><path d="M515.8 324.0L516.5 324.2L516.2 325.0L515.7 325.5L515.1 325.2L515.3 324.5L515.8 324.0Z"/><path d="M508.5 325.5L509.5 325.4L510.5 325.5L511.2 325.7L511.8 326.0L512.5 326.5L513.0 326.8L513.8 327.0L514.3 327.5L514.4 328.5L514.2 329.3L514.0 330.2L513.8 331.0L513.5 331.5L513.0 332.2L512.6 332.8L512.0 333.2L511.5 333.6L510.9 334.0L510.2 334.4L509.8 334.8L509.2 335.2L508.8 335.8L508.3 336.5L508.0 337.2L507.8 337.8L507.2 338.4L506.5 338.0L506.3 337.2L506.1 336.5L506.0 335.8L505.8 334.7L505.7 334.0L505.6 333.0L505.6 332.0L505.5 331.0L505.3 330.2L505.0 329.6L504.7 329.0L504.7 328.0L505.0 327.5L505.5 327.0L506.2 326.5L506.8 326.2L507.5 325.9L508.3 325.6Z"/><path d="M437.4 335.0L438.2 334.9L439.0 335.0L439.7 335.5L440.1 336.0L440.4 336.8L440.6 337.5L440.7 338.5L440.7 339.5L440.5 340.5L440.2 341.2L439.9 341.8L439.5 342.4L439.0 342.8L438.3 343.2L437.6 343.5L436.8 343.6L436.0 343.3L435.5 343.0L434.8 342.6L434.1 342.2L433.5 342.0L432.8 341.6L432.2 341.1L432.0 340.2L432.3 339.5L432.8 338.8L433.2 338.2L433.6 337.8L434.1 337.2L434.5 336.7L435.1 336.2L435.7 335.8L436.2 335.4L437.0 335.1Z"/><path d="M435.6 346.8L436.5 346.7L437.2 346.9L437.9 347.2L438.5 347.5L439.4 347.8L440.2 348.0L440.8 348.2L441.3 348.8L441.7 349.5L441.9 350.2L442.1 351.0L442.3 351.8L442.7 352.5L443.1 353.0L443.5 353.5L444.0 354.2L444.2 355.0L444.4 355.8L444.8 356.4L445.2 356.9L445.8 357.2L446.5 357.7L447.0 358.1L447.6 358.5L448.2 358.9L449.0 359.1L450.0 359.1L451.0 359.1L451.8 359.2L452.5 359.5L453.2 360.0L453.6 360.5L454.0 361.1L454.3 361.8L454.7 362.5L455.0 363.1L455.5 363.7L456.0 364.0L456.9 364.2L457.8 364.4L458.5 364.5L459.5 364.7L460.2 364.8L461.2 364.8L462.0 364.6L462.8 364.3L463.5 364.1L464.2 364.0L465.2 364.0L466.0 364.1L466.8 364.2L467.8 364.4L468.8 364.4L469.8 364.4L470.8 364.3L471.8 364.4L472.5 364.7L473.0 365.0L473.5 365.7L473.8 366.4L474.0 367.2L474.2 368.0L474.4 368.8L474.4 369.8L474.1 370.5L473.8 371.1L473.2 371.5L472.6 372.0L472.0 372.4L471.3 372.8L470.8 373.0L470.0 373.3L469.0 373.4L468.0 373.3L467.2 373.1L466.5 372.9L465.6 372.8L464.8 372.6L463.8 372.8L463.2 373.0L462.6 373.5L462.2 374.0L461.8 374.7L461.4 375.2L461.1 376.0L460.8 376.8L460.5 377.5L460.2 378.0L459.7 378.6L459.3 379.2L459.0 379.8L458.5 380.5L458.0 381.0L457.5 381.4L456.8 381.8L456.1 382.0L455.2 382.1L454.5 381.9L453.8 381.5L453.3 381.0L452.9 380.5L452.5 379.8L452.3 379.0L452.1 378.2L452.0 377.5L451.8 376.5L451.7 375.8L451.5 374.8L451.2 374.2L450.8 373.7L450.0 373.5L449.2 373.5L448.5 373.8L447.8 374.0L446.8 374.1L446.0 373.9L445.2 373.6L444.5 373.3L443.9 373.0L443.2 372.6L442.5 372.3L442.0 372.0L441.2 371.7L440.5 371.5L439.7 371.2L438.8 371.0L438.2 370.8L437.5 370.4L436.8 370.0L436.2 369.7L435.5 369.4L434.8 369.2L433.8 369.1L432.8 369.0L432.0 368.9L431.2 368.7L430.4 368.5L429.5 368.2L428.8 368.0L428.0 367.8L427.2 367.6L426.5 367.4L425.8 367.2L425.0 366.8L424.8 366.0L425.0 365.0L425.1 364.2L425.1 363.2L425.0 362.5L424.8 361.6L424.5 360.8L424.5 360.0L424.5 359.2L424.8 358.3L425.0 357.8L425.7 357.2L426.5 357.2L427.2 357.3L428.0 357.6L428.8 357.9L429.5 358.1L430.5 358.1L431.2 357.8L431.8 357.5L432.3 357.0L432.8 356.4L433.0 355.8L433.1 354.8L433.0 353.9L432.8 353.0L432.5 352.2L432.4 351.5L432.3 350.5L432.5 349.5L432.8 348.9L433.2 348.2L433.8 347.8L434.2 347.4L435.0 347.0L435.6 346.8Z"/></g>
<g fill="#ffffff" opacity="0.97"><ellipse cx="496.9" cy="194.3" rx="3.90" ry="4.50" transform="rotate(0 496.9 194.3)"/><ellipse cx="467.9" cy="207.8" rx="2.70" ry="2.70" transform="rotate(0 467.9 207.8)"/><ellipse cx="461.4" cy="218.2" rx="3.90" ry="5.40" transform="rotate(0 461.4 218.2)"/><ellipse cx="477.3" cy="227.7" rx="3.30" ry="4.20" transform="rotate(0 477.3 227.7)"/><ellipse cx="473.8" cy="231.7" rx="3.00" ry="3.30" transform="rotate(0 473.8 231.7)"/><ellipse cx="471.4" cy="244.4" rx="3.30" ry="3.30" transform="rotate(0 471.4 244.4)"/><ellipse cx="414.7" cy="276.2" rx="3.60" ry="6.00" transform="rotate(-35 414.7 276.2)"/><ellipse cx="394.3" cy="283.3" rx="2.40" ry="4.50" transform="rotate(-55 394.3 283.3)"/><ellipse cx="441.2" cy="276.2" rx="3.60" ry="4.20" transform="rotate(0 441.2 276.2)"/><ellipse cx="438.8" cy="282.5" rx="3.60" ry="4.50" transform="rotate(0 438.8 282.5)"/><ellipse cx="504.6" cy="207.2" rx="3.90" ry="4.20" transform="rotate(0 504.6 207.2)"/><ellipse cx="514.2" cy="213.5" rx="2.25" ry="2.25" transform="rotate(0 514.2 213.5)"/><ellipse cx="522.9" cy="220.7" rx="3.45" ry="3.75" transform="rotate(0 522.9 220.7)"/><ellipse cx="542.8" cy="235" rx="3.00" ry="3.00" transform="rotate(0 542.8 235)"/><ellipse cx="513.4" cy="243.7" rx="4.80" ry="3.90" transform="rotate(30 513.4 243.7)"/><ellipse cx="516" cy="246" rx="3.75" ry="3.75" transform="rotate(0 516 246)"/><ellipse cx="560.8" cy="254.1" rx="3.75" ry="4.50" transform="rotate(0 560.8 254.1)"/><ellipse cx="568.7" cy="267.6" rx="2.55" ry="2.55" transform="rotate(0 568.7 267.6)"/><ellipse cx="553.9" cy="291.4" rx="6.30" ry="5.10" transform="rotate(-20 553.9 291.4)"/><ellipse cx="572.2" cy="304.9" rx="5.25" ry="3.60" transform="rotate(-10 572.2 304.9)"/><ellipse cx="585.7" cy="284.3" rx="2.40" ry="2.40" transform="rotate(0 585.7 284.3)"/><ellipse cx="387.2" cy="317.5" rx="4.80" ry="3.90" transform="rotate(0 387.2 317.5)"/><ellipse cx="397.5" cy="320.7" rx="5.10" ry="4.50" transform="rotate(0 397.5 320.7)"/><ellipse cx="381.6" cy="334.2" rx="3.30" ry="3.90" transform="rotate(0 381.6 334.2)"/><ellipse cx="426.1" cy="301.6" rx="4.20" ry="4.20" transform="rotate(0 426.1 301.6)"/><ellipse cx="537.4" cy="319.1" rx="3.00" ry="3.00" transform="rotate(0 537.4 319.1)"/><ellipse cx="539" cy="323.8" rx="3.00" ry="3.00" transform="rotate(0 539 323.8)"/><ellipse cx="537.4" cy="342.1" rx="3.90" ry="3.00" transform="rotate(0 537.4 342.1)"/><ellipse cx="550.1" cy="346.9" rx="3.60" ry="3.30" transform="rotate(0 550.1 346.9)"/><ellipse cx="556.5" cy="347.7" rx="3.90" ry="3.45" transform="rotate(0 556.5 347.7)"/><ellipse cx="513.5" cy="366.8" rx="4.50" ry="4.50" transform="rotate(0 513.5 366.8)"/><ellipse cx="515.9" cy="373.1" rx="3.90" ry="3.90" transform="rotate(0 515.9 373.1)"/><ellipse cx="497.6" cy="387.4" rx="3.90" ry="3.60" transform="rotate(0 497.6 387.4)"/><ellipse cx="509.6" cy="400.2" rx="4.50" ry="3.00" transform="rotate(0 509.6 400.2)"/><ellipse cx="533.4" cy="396.2" rx="2.40" ry="2.40" transform="rotate(0 533.4 396.2)"/><ellipse cx="452.3" cy="404.1" rx="3.00" ry="4.20" transform="rotate(0 452.3 404.1)"/><ellipse cx="470.6" cy="385.9" rx="5.10" ry="6.30" transform="rotate(0 470.6 385.9)"/><ellipse cx="483.3" cy="364.4" rx="2.40" ry="2.40" transform="rotate(0 483.3 364.4)"/><ellipse cx="549.3" cy="384.3" rx="2.40" ry="2.40" transform="rotate(0 549.3 384.3)"/><ellipse cx="516.7" cy="408.1" rx="2.40" ry="2.40" transform="rotate(0 516.7 408.1)"/><ellipse cx="444.4" cy="399.4" rx="2.40" ry="2.40" transform="rotate(0 444.4 399.4)"/><ellipse cx="461.1" cy="401.7" rx="3.00" ry="3.00" transform="rotate(0 461.1 401.7)"/><ellipse cx="602.3" cy="335.8" rx="5.10" ry="3.90" transform="rotate(0 602.3 335.8)"/><ellipse cx="595.9" cy="334.2" rx="4.50" ry="3.60" transform="rotate(0 595.9 334.2)"/><ellipse cx="585.4" cy="354.8" rx="2.25" ry="2.25" transform="rotate(0 585.4 354.8)"/><ellipse cx="452.9" cy="408.9" rx="2.70" ry="3.60" transform="rotate(0 452.9 408.9)"/><ellipse cx="460.2" cy="396.1" rx="2.70" ry="2.70" transform="rotate(0 460.2 396.1)"/><ellipse cx="553" cy="329.4" rx="2.25" ry="2.25" transform="rotate(0 553 329.4)"/><ellipse cx="527.6" cy="329.4" rx="2.25" ry="2.25" transform="rotate(0 527.6 329.4)"/><ellipse cx="497.0" cy="354.8" rx="1.35" ry="1.20" transform="rotate(0 497.0 354.8)"/><ellipse cx="463.0" cy="258.0" rx="1.50" ry="1.38" transform="rotate(0 463.0 258.0)"/><ellipse cx="463.0" cy="272.0" rx="1.84" ry="2.31" transform="rotate(0 463.0 272.0)"/><ellipse cx="515.8" cy="350.5" rx="1.89" ry="1.64" transform="rotate(0 515.8 350.5)"/><ellipse cx="518.8" cy="292.5" rx="1.88" ry="1.52" transform="rotate(0 518.8 292.5)"/><ellipse cx="451.8" cy="317.8" rx="1.19" ry="1.36" transform="rotate(0 451.8 317.8)"/><ellipse cx="407.0" cy="374.2" rx="1.40" ry="1.68" transform="rotate(0 407.0 374.2)"/><ellipse cx="523.0" cy="262.0" rx="1.77" ry="1.98" transform="rotate(0 523.0 262.0)"/><ellipse cx="449.8" cy="354.5" rx="1.68" ry="2.11" transform="rotate(0 449.8 354.5)"/><ellipse cx="435.0" cy="381.5" rx="1.92" ry="1.56" transform="rotate(0 435.0 381.5)"/><ellipse cx="448.5" cy="354.0" rx="2.08" ry="2.11" transform="rotate(0 448.5 354.0)"/><ellipse cx="422.2" cy="383.8" rx="1.36" ry="1.68" transform="rotate(0 422.2 383.8)"/><ellipse cx="517.2" cy="336.8" rx="2.01" ry="2.39" transform="rotate(0 517.2 336.8)"/><ellipse cx="460.8" cy="253.0" rx="1.80" ry="1.46" transform="rotate(0 460.8 253.0)"/><ellipse cx="518.0" cy="289.8" rx="1.33" ry="1.62" transform="rotate(0 518.0 289.8)"/><ellipse cx="397.2" cy="348.2" rx="2.10" ry="1.98" transform="rotate(0 397.2 348.2)"/><ellipse cx="529.5" cy="329.5" rx="1.84" ry="1.59" transform="rotate(0 529.5 329.5)"/><ellipse cx="463.5" cy="280.8" rx="1.83" ry="1.80" transform="rotate(0 463.5 280.8)"/><ellipse cx="455.5" cy="284.2" rx="1.12" ry="1.01" transform="rotate(0 455.5 284.2)"/><ellipse cx="517.2" cy="297.2" rx="1.65" ry="1.71" transform="rotate(0 517.2 297.2)"/><ellipse cx="460.8" cy="356.8" rx="1.77" ry="1.72" transform="rotate(0 460.8 356.8)"/><ellipse cx="459.5" cy="381.5" rx="1.68" ry="1.65" transform="rotate(0 459.5 381.5)"/><ellipse cx="504.8" cy="346.2" rx="1.86" ry="1.48" transform="rotate(0 504.8 346.2)"/><ellipse cx="467.8" cy="388.2" rx="1.67" ry="1.83" transform="rotate(0 467.8 388.2)"/><ellipse cx="472.2" cy="296.8" rx="1.11" ry="1.32" transform="rotate(0 472.2 296.8)"/><ellipse cx="532.0" cy="313.8" rx="1.71" ry="2.19" transform="rotate(0 532.0 313.8)"/><ellipse cx="453.0" cy="284.5" rx="1.24" ry="1.26" transform="rotate(0 453.0 284.5)"/><ellipse cx="455.2" cy="336.8" rx="1.97" ry="2.49" transform="rotate(0 455.2 336.8)"/><ellipse cx="416.0" cy="340.2" rx="1.77" ry="1.72" transform="rotate(0 416.0 340.2)"/><ellipse cx="428.5" cy="318.8" rx="1.83" ry="1.88" transform="rotate(0 428.5 318.8)"/><ellipse cx="478.2" cy="357.0" rx="1.60" ry="1.83" transform="rotate(0 478.2 357.0)"/><ellipse cx="498.5" cy="341.0" rx="2.03" ry="1.64" transform="rotate(0 498.5 341.0)"/><ellipse cx="511.8" cy="303.8" rx="1.78" ry="2.25" transform="rotate(0 511.8 303.8)"/><ellipse cx="463.0" cy="312.0" rx="1.44" ry="1.32" transform="rotate(0 463.0 312.0)"/><ellipse cx="445.2" cy="323.5" rx="1.65" ry="1.35" transform="rotate(0 445.2 323.5)"/><ellipse cx="491.8" cy="273.2" rx="1.89" ry="1.98" transform="rotate(0 491.8 273.2)"/><ellipse cx="526.2" cy="271.5" rx="1.74" ry="2.08" transform="rotate(0 526.2 271.5)"/><ellipse cx="403.5" cy="345.5" rx="1.06" ry="0.96" transform="rotate(0 403.5 345.5)"/><ellipse cx="484.5" cy="343.5" rx="1.48" ry="1.65" transform="rotate(0 484.5 343.5)"/><ellipse cx="449.8" cy="313.8" rx="1.44" ry="1.35" transform="rotate(0 449.8 313.8)"/><ellipse cx="470.2" cy="250.5" rx="1.08" ry="1.09" transform="rotate(0 470.2 250.5)"/><ellipse cx="454.0" cy="223.0" rx="2.04" ry="1.67" transform="rotate(0 454.0 223.0)"/><ellipse cx="535.8" cy="274.8" rx="1.68" ry="1.52" transform="rotate(0 535.8 274.8)"/><ellipse cx="464.8" cy="391.8" rx="2.07" ry="2.49" transform="rotate(0 464.8 391.8)"/><ellipse cx="451.2" cy="322.2" rx="1.27" ry="1.64" transform="rotate(0 451.2 322.2)"/><ellipse cx="516.8" cy="261.0" rx="1.38" ry="1.58" transform="rotate(0 516.8 261.0)"/><ellipse cx="531.5" cy="304.5" rx="1.32" ry="1.26" transform="rotate(0 531.5 304.5)"/><ellipse cx="428.8" cy="349.2" rx="1.11" ry="1.06" transform="rotate(0 428.8 349.2)"/><ellipse cx="497.5" cy="345.8" rx="1.48" ry="1.20" transform="rotate(0 497.5 345.8)"/><ellipse cx="498.8" cy="368.8" rx="1.06" ry="0.85" transform="rotate(0 498.8 368.8)"/><ellipse cx="416.2" cy="366.5" rx="1.98" ry="2.00" transform="rotate(0 416.2 366.5)"/><ellipse cx="434.0" cy="373.2" rx="2.01" ry="2.10" transform="rotate(0 434.0 373.2)"/><ellipse cx="426.5" cy="383.0" rx="1.64" ry="1.62" transform="rotate(0 426.5 383.0)"/><ellipse cx="508.0" cy="356.5" rx="1.88" ry="1.81" transform="rotate(0 508.0 356.5)"/><ellipse cx="496.0" cy="358.8" rx="1.91" ry="1.89" transform="rotate(0 496.0 358.8)"/><ellipse cx="533.8" cy="317.2" rx="1.19" ry="1.20" transform="rotate(0 533.8 317.2)"/><ellipse cx="469.8" cy="272.5" rx="1.08" ry="1.08" transform="rotate(0 469.8 272.5)"/><ellipse cx="493.2" cy="261.5" rx="1.46" ry="1.68" transform="rotate(0 493.2 261.5)"/><ellipse cx="554.8" cy="290.8" rx="2.10" ry="1.84" transform="rotate(0 554.8 290.8)"/><ellipse cx="497.0" cy="338.8" rx="1.69" ry="2.06" transform="rotate(0 497.0 338.8)"/><ellipse cx="473.2" cy="348.2" rx="1.77" ry="1.62" transform="rotate(0 473.2 348.2)"/><ellipse cx="454.0" cy="377.0" rx="1.48" ry="1.89" transform="rotate(0 454.0 377.0)"/><ellipse cx="475.8" cy="377.8" rx="1.59" ry="1.81" transform="rotate(0 475.8 377.8)"/><ellipse cx="526.0" cy="301.5" rx="1.38" ry="1.65" transform="rotate(0 526.0 301.5)"/><ellipse cx="432.0" cy="388.5" rx="1.64" ry="1.97" transform="rotate(0 432.0 388.5)"/><ellipse cx="522.0" cy="342.5" rx="1.35" ry="1.23" transform="rotate(0 522.0 342.5)"/><ellipse cx="508.2" cy="310.8" rx="1.24" ry="1.36" transform="rotate(0 508.2 310.8)"/><ellipse cx="528.8" cy="277.2" rx="1.14" ry="1.09" transform="rotate(0 528.8 277.2)"/><ellipse cx="469.0" cy="365.0" rx="1.75" ry="1.64" transform="rotate(0 469.0 365.0)"/><ellipse cx="515.0" cy="276.5" rx="1.32" ry="1.22" transform="rotate(0 515.0 276.5)"/></g>
<g fill="none" stroke="#ffa500" stroke-width="2.6"><rect x="478.3" y="275.7" width="19.4" height="19.4"/><rect x="461.8" y="325.9" width="19.4" height="19.4"/><rect x="465.5" y="332.6" width="19.4" height="19.4"/><rect x="446.8" y="361.3" width="19.4" height="19.4"/></g>
</g>
<rect x="140.5" y="15.5" width="641" height="641" fill="none" stroke="#000" stroke-width="1"/>
<path d="M172.5 16v4.5M172.5 656v-4.5M321.5 16v4.5M321.5 656v-4.5M469.5 16v4.5M469.5 656v-4.5M617.5 16v4.5M617.5 656v-4.5M766.5 16v4.5M766.5 656v-4.5M141 165.5h4.5M781 165.5h-4.5M141 325.5h4.5M781 325.5h-4.5M141 485.5h4.5M781 485.5h-4.5M141 646.5h4.5M781 646.5h-4.5" stroke="#000" stroke-width="1" fill="none"/>
<rect x="809.5" y="13.1" width="33.0" height="645.1999999999999" fill="url(#cbar)" stroke="#000" stroke-width="1"/>
<path d="M842.5 577.6h-5.5M842.5 497.0h-5.5M842.5 416.3h-5.5M842.5 335.7h-5.5M842.5 255.1h-5.5M842.5 174.4h-5.5M842.5 93.8h-5.5" stroke="#000" stroke-width="1"/>
<g fill="#add8e6" stroke="#000" stroke-width="1"><rect x="1182.40" y="509.44" width="8.88" height="152.76"/><rect x="1191.28" y="498.12" width="8.88" height="164.08"/><rect x="1200.16" y="445.41" width="8.88" height="216.79"/><rect x="1209.04" y="419.30" width="8.88" height="242.90"/><rect x="1217.92" y="397.50" width="8.88" height="264.70"/><rect x="1226.80" y="362.60" width="8.88" height="299.60"/><rect x="1235.68" y="327.30" width="8.88" height="334.90"/><rect x="1244.56" y="293.20" width="8.88" height="369.00"/><rect x="1253.44" y="273.70" width="8.88" height="388.50"/><rect x="1262.32" y="242.40" width="8.88" height="419.80"/><rect x="1271.20" y="220.60" width="8.88" height="441.60"/><rect x="1280.08" y="196.70" width="8.88" height="465.50"/><rect x="1288.96" y="172.90" width="8.88" height="489.30"/><rect x="1297.84" y="152.40" width="8.88" height="509.80"/><rect x="1306.72" y="134.80" width="8.88" height="527.40"/><rect x="1315.60" y="118.70" width="8.88" height="543.50"/><rect x="1324.48" y="106.10" width="8.88" height="556.10"/><rect x="1333.36" y="93.60" width="8.88" height="568.60"/><rect x="1342.24" y="82.90" width="8.88" height="579.30"/><rect x="1351.12" y="73.60" width="8.88" height="588.60"/><rect x="1360.00" y="66.20" width="8.88" height="596.00"/><rect x="1368.88" y="60.20" width="8.88" height="602.00"/><rect x="1377.76" y="57.30" width="8.88" height="604.90"/><rect x="1386.64" y="56.00" width="8.88" height="606.20"/><rect x="1395.52" y="55.40" width="8.88" height="606.80"/><rect x="1404.40" y="57.40" width="8.88" height="604.80"/><rect x="1413.28" y="61.20" width="8.88" height="601.00"/><rect x="1422.16" y="66.50" width="8.88" height="595.70"/><rect x="1431.04" y="73.60" width="8.88" height="588.60"/><rect x="1439.92" y="83.20" width="8.88" height="579.00"/><rect x="1448.80" y="93.50" width="8.88" height="568.70"/><rect x="1457.68" y="104.20" width="8.88" height="558.00"/><rect x="1466.56" y="117.60" width="8.88" height="544.60"/><rect x="1475.44" y="131.70" width="8.88" height="530.50"/><rect x="1484.32" y="144.60" width="8.88" height="517.60"/><rect x="1493.20" y="159.90" width="8.88" height="502.30"/><rect x="1502.08" y="173.70" width="8.88" height="488.50"/><rect x="1510.96" y="189.00" width="8.88" height="473.20"/><rect x="1519.84" y="207.50" width="8.88" height="454.70"/><rect x="1528.72" y="221.50" width="8.88" height="440.70"/><rect x="1537.60" y="236.80" width="8.88" height="425.40"/><rect x="1546.48" y="249.60" width="8.88" height="412.60"/><rect x="1555.36" y="264.00" width="8.88" height="398.20"/><rect x="1564.24" y="269.50" width="8.88" height="392.70"/><rect x="1573.12" y="283.70" width="8.88" height="378.50"/><rect x="1582.00" y="288.90" width="8.88" height="373.30"/><rect x="1590.88" y="308.40" width="8.88" height="353.80"/><rect x="1599.76" y="321.80" width="8.88" height="340.40"/><rect x="1608.64" y="326.40" width="8.88" height="335.80"/><rect x="1617.52" y="337.80" width="8.88" height="324.40"/><rect x="1626.40" y="347.70" width="8.88" height="314.50"/><rect x="1635.28" y="350.50" width="8.88" height="311.70"/><rect x="1644.16" y="359.70" width="8.88" height="302.50"/><rect x="1653.04" y="378.50" width="8.88" height="283.70"/><rect x="1661.92" y="383.50" width="8.88" height="278.70"/><rect x="1670.80" y="394.60" width="8.88" height="267.60"/><rect x="1679.68" y="410.80" width="8.88" height="251.40"/><rect x="1688.56" y="417.30" width="8.88" height="244.90"/><rect x="1697.44" y="423.60" width="8.88" height="238.60"/><rect x="1706.32" y="423.60" width="8.88" height="238.60"/><rect x="1715.20" y="422.50" width="8.88" height="239.70"/><rect x="1724.08" y="428.00" width="8.88" height="234.20"/><rect x="1732.96" y="464.40" width="8.88" height="197.80"/><rect x="1741.84" y="467.29" width="8.88" height="194.91"/><rect x="1750.72" y="464.40" width="8.88" height="197.80"/><rect x="1759.60" y="459.02" width="8.88" height="203.18"/><rect x="1768.48" y="488.70" width="8.88" height="173.50"/><rect x="1777.36" y="480.63" width="8.88" height="181.57"/><rect x="1786.24" y="484.52" width="8.88" height="177.68"/><rect x="1795.12" y="493.21" width="8.88" height="168.99"/><rect x="1804.00" y="503.50" width="8.88" height="158.70"/><rect x="1812.88" y="516.09" width="8.88" height="146.11"/><rect x="1821.76" y="532.32" width="8.88" height="129.88"/><rect x="1830.64" y="509.44" width="8.88" height="152.76"/><rect x="1839.52" y="555.19" width="8.88" height="107.01"/><rect x="1848.40" y="516.09" width="8.88" height="146.11"/><rect x="1857.28" y="523.62" width="8.88" height="138.58"/><rect x="1866.16" y="532.32" width="8.88" height="129.88"/><rect x="1875.04" y="523.62" width="8.88" height="138.58"/><rect x="1883.92" y="509.44" width="8.88" height="152.76"/><rect x="1892.80" y="571.42" width="8.88" height="90.78"/><rect x="1901.68" y="571.42" width="8.88" height="90.78"/><rect x="1910.56" y="571.42" width="8.88" height="90.78"/><rect x="1919.44" y="555.19" width="8.88" height="107.01"/><rect x="1928.32" y="523.62" width="8.88" height="138.58"/><rect x="1937.20" y="571.42" width="8.88" height="90.78"/><rect x="1946.08" y="555.19" width="8.88" height="107.01"/><rect x="1963.84" y="594.30" width="8.88" height="67.90"/><rect x="1972.72" y="571.42" width="8.88" height="90.78"/><rect x="1981.60" y="594.30" width="8.88" height="67.90"/><rect x="1990.48" y="633.40" width="8.88" height="28.80"/></g>
<g fill="#ff8c00" fill-opacity="0.5" stroke="#f02000" stroke-opacity="0.8" stroke-width="0.9"><rect x="1200.16" y="594.30" width="8.88" height="67.90"/><rect x="1209.04" y="498.12" width="8.88" height="164.08"/><rect x="1217.92" y="467.29" width="8.88" height="194.91"/><rect x="1226.80" y="417.30" width="8.88" height="244.90"/><rect x="1235.68" y="380.20" width="8.88" height="282.00"/><rect x="1244.56" y="346.20" width="8.88" height="316.00"/><rect x="1253.44" y="321.70" width="8.88" height="340.50"/><rect x="1262.32" y="293.20" width="8.88" height="369.00"/><rect x="1271.20" y="263.90" width="8.88" height="398.30"/><rect x="1280.08" y="233.50" width="8.88" height="428.70"/><rect x="1288.96" y="207.30" width="8.88" height="454.90"/><rect x="1297.84" y="177.40" width="8.88" height="484.80"/><rect x="1306.72" y="156.70" width="8.88" height="505.50"/><rect x="1315.60" y="135.40" width="8.88" height="526.80"/><rect x="1324.48" y="115.00" width="8.88" height="547.20"/><rect x="1333.36" y="101.40" width="8.88" height="560.80"/><rect x="1342.24" y="88.10" width="8.88" height="574.10"/><rect x="1351.12" y="74.50" width="8.88" height="587.70"/><rect x="1360.00" y="64.30" width="8.88" height="597.90"/><rect x="1368.88" y="56.30" width="8.88" height="605.90"/><rect x="1377.76" y="52.30" width="8.88" height="609.90"/><rect x="1386.64" y="49.10" width="8.88" height="613.10"/><rect x="1395.52" y="48.40" width="8.88" height="613.80"/><rect x="1404.40" y="49.70" width="8.88" height="612.50"/><rect x="1413.28" y="53.40" width="8.88" height="608.80"/><rect x="1422.16" y="58.80" width="8.88" height="603.40"/><rect x="1431.04" y="66.50" width="8.88" height="595.70"/><rect x="1439.92" y="76.40" width="8.88" height="585.80"/><rect x="1448.80" y="89.70" width="8.88" height="572.50"/><rect x="1457.68" y="101.40" width="8.88" height="560.80"/><rect x="1466.56" y="118.70" width="8.88" height="543.50"/><rect x="1475.44" y="135.10" width="8.88" height="527.10"/><rect x="1484.32" y="152.60" width="8.88" height="509.60"/><rect x="1493.20" y="176.30" width="8.88" height="485.90"/><rect x="1502.08" y="199.60" width="8.88" height="462.60"/><rect x="1510.96" y="228.40" width="8.88" height="433.80"/><rect x="1519.84" y="255.30" width="8.88" height="406.90"/><rect x="1528.72" y="286.50" width="8.88" height="375.70"/><rect x="1537.60" y="321.10" width="8.88" height="341.10"/><rect x="1546.48" y="352.60" width="8.88" height="309.60"/><rect x="1555.36" y="374.40" width="8.88" height="287.80"/><rect x="1564.24" y="413.40" width="8.88" height="248.80"/><rect x="1573.12" y="447.47" width="8.88" height="214.73"/><rect x="1582.00" y="467.29" width="8.88" height="194.91"/><rect x="1590.88" y="532.32" width="8.88" height="129.88"/></g>
<rect x="1156.5" y="19.5" width="879" height="643" fill="none" stroke="#000" stroke-width="1"/>
<path d="M1277.6 662v-5.5M1399.8 662v-5.5M1521.9 662v-5.5M1644.0 662v-5.5M1766.1 662v-5.5M1888.2 662v-5.5M2010.4 662v-5.5M1157 633.4h5.8M1157 503.5h5.8M1157 373.6h5.8M1157 243.7h5.8M1157 113.8h5.8M1157 653.5h3.5M1157 646.0h3.5M1157 639.3h3.5M1157 594.3h3.5M1157 571.4h3.5M1157 555.2h3.5M1157 542.6h3.5M1157 532.3h3.5M1157 523.6h3.5M1157 516.1h3.5M1157 509.4h3.5M1157 464.4h3.5M1157 441.5h3.5M1157 425.3h3.5M1157 412.7h3.5M1157 402.4h3.5M1157 393.7h3.5M1157 386.2h3.5M1157 379.5h3.5M1157 334.5h3.5M1157 311.6h3.5M1157 295.4h3.5M1157 282.8h3.5M1157 272.5h3.5M1157 263.8h3.5M1157 256.3h3.5M1157 249.6h3.5M1157 204.6h3.5M1157 181.7h3.5M1157 165.5h3.5M1157 152.9h3.5M1157 142.6h3.5M1157 133.9h3.5M1157 126.4h3.5M1157 119.7h3.5M1157 74.7h3.5M1157 51.8h3.5M1157 35.6h3.5M1157 23.0h3.5" stroke="#000" stroke-width="1"/>
<g><text x="21.00" y="175.40" letter-spacing="1.04">22°27'</text><text x="82.70" y="336.10" letter-spacing="1.20">24'</text><text x="82.70" y="496.10" letter-spacing="1.20">21'</text><text x="83.70" y="656.30" letter-spacing="0.70">18'</text><text x="79.00" y="687.10" letter-spacing="1.38">11<tspan font-size="23.33" dy="-13.3">h</tspan><tspan dy="13.3">50</tspan><tspan font-size="23.33" dy="-13.3">m</tspan><tspan dy="13.3">00</tspan><tspan font-size="23.33" dy="-13.3">s</tspan></text><text x="258.10" y="687.60" letter-spacing="1.36">49<tspan font-size="23.33" dy="-13.3">m</tspan><tspan dy="13.3">48</tspan><tspan font-size="23.33" dy="-13.3">s</tspan></text><text x="440.40" y="687.70" letter-spacing="1.50">36<tspan font-size="23.33" dy="-13.3">s</tspan></text><text x="589.20" y="687.80" letter-spacing="1.30">24<tspan font-size="23.33" dy="-13.3">s</tspan></text><text x="738.60" y="687.80" letter-spacing="0.60">12<tspan font-size="23.33" dy="-13.3">s</tspan></text><text x="299.50" y="746.80" letter-spacing="0.70">J2000 Right Ascension</text><text x="0" y="0" letter-spacing="0.75" transform="translate(26.80,486.50) rotate(-90)">J2000 Declination</text><text x="0" y="0" letter-spacing="0.91" transform="translate(981.30,440.10) rotate(-90)">mJy beam<tspan font-size="23.33" dy="-13.9">−1</tspan></text><text x="1559.30" y="730.20" letter-spacing="1.40">SNR</text><text x="0" y="0" letter-spacing="0.63" transform="translate(1081.30,526.90) rotate(-90)">Number of Pixels[log]</text><text x="846.00" y="671.80" letter-spacing="1.00">−5.0</text><text x="845.50" y="590.95" letter-spacing="1.00">−2.5</text><text x="845.60" y="510.60" letter-spacing="0.80">0.0</text><text x="845.50" y="429.65" letter-spacing="1.00">2.5</text><text x="845.50" y="349.00" letter-spacing="1.00">5.0</text><text x="845.50" y="268.35" letter-spacing="1.00">7.5</text><text x="846.10" y="187.90" letter-spacing="0.73">10.0</text><text x="845.50" y="107.05" letter-spacing="1.00">12.5</text><text x="845.00" y="26.20" letter-spacing="1.13">15.0</text><text x="1113.90" y="692.30" letter-spacing="1.07">−5.0</text><text x="1236.20" y="692.30" letter-spacing="0.93">−2.5</text><text x="1372.25" y="692.30" letter-spacing="1.00">0.0</text><text x="1494.62" y="692.30" letter-spacing="1.00">2.5</text><text x="1616.50" y="692.30" letter-spacing="1.00">5.0</text><text x="1738.88" y="692.30" letter-spacing="1.00">7.5</text><text x="1849.25" y="692.30" letter-spacing="1.00">10.0</text><text x="1971.62" y="692.30" letter-spacing="1.00">12.5</text><text x="1093.50" y="646.30" letter-spacing="0.60">10<tspan font-size="23.33" dy="-13.3">0</tspan></text><text x="1094.50" y="516.40" letter-spacing="0.60">10<tspan font-size="23.33" dy="-13.3">1</tspan></text><text x="1094.50" y="386.50" letter-spacing="0.60">10<tspan font-size="23.33" dy="-13.3">2</tspan></text><text x="1094.50" y="256.60" letter-spacing="0.60">10<tspan font-size="23.33" dy="-13.3">3</tspan></text><text x="1093.80" y="126.70" letter-spacing="0.60">10<tspan font-size="23.33" dy="-13.3">4</tspan></text></g>
</svg></body></html>
